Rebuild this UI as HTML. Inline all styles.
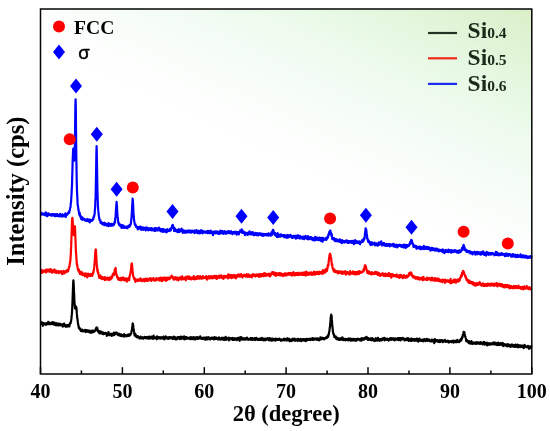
<!DOCTYPE html>
<html><head><meta charset="utf-8"><style>html,body{margin:0;padding:0;background:#fff;width:550px;height:431px;overflow:hidden}svg{display:block}</style></head>
<body><svg width="550" height="431" viewBox="0 0 550 431">
<defs>
<linearGradient id="bg" gradientUnits="userSpaceOnUse" x1="415.8" y1="255.9" x2="531.6" y2="9.3">
<stop offset="0.000" stop-color="rgb(255,255,255)"/>
<stop offset="0.037" stop-color="rgb(255,255,255)"/>
<stop offset="0.074" stop-color="rgb(254,255,254)"/>
<stop offset="0.111" stop-color="rgb(254,255,254)"/>
<stop offset="0.148" stop-color="rgb(253,254,253)"/>
<stop offset="0.185" stop-color="rgb(253,254,253)"/>
<stop offset="0.222" stop-color="rgb(252,254,252)"/>
<stop offset="0.259" stop-color="rgb(250,254,251)"/>
<stop offset="0.296" stop-color="rgb(249,253,250)"/>
<stop offset="0.333" stop-color="rgb(247,253,248)"/>
<stop offset="0.370" stop-color="rgb(246,253,247)"/>
<stop offset="0.407" stop-color="rgb(244,252,246)"/>
<stop offset="0.444" stop-color="rgb(243,252,244)"/>
<stop offset="0.481" stop-color="rgb(241,251,241)"/>
<stop offset="0.519" stop-color="rgb(239,251,239)"/>
<stop offset="0.556" stop-color="rgb(238,251,237)"/>
<stop offset="0.593" stop-color="rgb(236,250,235)"/>
<stop offset="0.630" stop-color="rgb(234,250,232)"/>
<stop offset="0.667" stop-color="rgb(232,249,229)"/>
<stop offset="0.704" stop-color="rgb(230,248,226)"/>
<stop offset="0.741" stop-color="rgb(228,248,223)"/>
<stop offset="0.778" stop-color="rgb(226,247,220)"/>
<stop offset="0.815" stop-color="rgb(225,246,216)"/>
<stop offset="0.852" stop-color="rgb(224,245,213)"/>
<stop offset="0.889" stop-color="rgb(222,243,210)"/>
<stop offset="0.926" stop-color="rgb(221,242,207)"/>
<stop offset="0.963" stop-color="rgb(219,240,203)"/>
<stop offset="1.000" stop-color="rgb(218,239,200)"/>
</linearGradient>
</defs>
<rect width="550" height="431" fill="#fff"/>
<rect x="40.5" y="9" width="491.3" height="365" fill="url(#bg)"/>
<g fill="none" stroke-linejoin="round" stroke-width="2.2">
<path stroke="#000" d="M41.0 325.0L41.2 322.2 41.4 324.0 41.6 323.4 41.8 323.5 42.0 323.6 42.2 322.5 42.4 323.6 42.6 323.2 42.8 325.8 43.0 323.9 43.2 323.5 43.4 323.5 43.6 323.3 43.8 323.0 44.0 323.4 44.2 324.0 44.4 323.5 44.6 324.2 44.8 323.5 45.0 323.7 45.2 324.6 45.4 324.0 45.6 323.3 45.8 323.5 46.0 323.9 46.2 324.8 46.4 323.4 46.6 323.4 46.8 324.2 47.0 323.0 47.2 323.4 47.4 324.1 47.6 323.9 47.8 323.6 48.0 323.9 48.2 321.8 48.4 324.1 48.6 322.9 48.8 322.5 49.0 323.7 49.2 323.9 49.4 323.2 49.6 322.8 49.8 323.5 50.0 323.4 50.2 324.3 50.4 323.9 50.6 323.5 50.8 324.1 51.0 323.3 51.2 322.9 51.4 323.8 51.6 323.9 51.8 323.4 52.0 323.1 52.2 323.7 52.4 322.1 52.6 324.1 52.8 324.0 53.0 322.7 53.2 323.8 53.4 323.2 53.6 324.3 53.8 322.6 54.0 323.3 54.2 324.3 54.4 324.7 54.6 322.6 54.8 323.7 55.0 324.2 55.2 323.7 55.4 325.1 55.6 323.4 55.8 324.4 56.0 323.5 56.2 325.1 56.4 324.2 56.6 324.0 56.8 323.2 57.0 325.4 57.2 324.8 57.4 324.9 57.6 325.1 57.8 324.7 58.0 324.1 58.2 324.0 58.4 324.0 58.6 325.4 58.8 323.7 59.0 324.2 59.2 324.4 59.4 324.8 59.6 325.0 59.8 323.9 60.0 323.7 60.2 324.8 60.4 325.5 60.6 325.3 60.8 325.0 61.0 324.7 61.2 325.1 61.4 324.8 61.6 325.4 61.8 324.4 62.0 325.0 62.2 324.9 62.4 325.3 62.6 325.2 62.8 326.6 63.0 326.0 63.2 326.0 63.4 323.8 63.6 324.9 63.8 324.7 64.0 325.4 64.2 323.7 64.4 325.9 64.6 325.9 64.8 324.5 65.0 324.8 65.2 324.9 65.4 325.5 65.6 325.9 65.8 326.8 66.0 325.4 66.2 326.1 66.4 325.7 66.6 326.7 66.8 326.1 67.0 326.5 67.2 325.0 67.4 325.5 67.6 325.1 67.8 326.5 68.0 326.0 68.2 325.3 68.4 325.2 68.6 325.7 68.8 324.9 69.0 324.6 69.2 325.3 69.4 326.4 69.6 324.5 69.8 324.0 70.0 323.3 70.2 322.9 70.4 323.6 70.6 323.2 70.8 322.0 71.0 321.4 71.2 320.2 71.4 318.9 71.6 316.2 71.8 314.7 72.0 312.3 72.2 308.3 72.4 304.1 72.6 298.7 72.8 293.0 73.0 287.8 73.2 282.3 73.4 280.4 73.6 282.4 73.8 286.4 74.0 292.3 74.2 295.1 74.4 301.3 74.6 303.7 74.8 306.3 75.0 308.0 75.2 308.7 75.4 308.5 75.6 307.5 75.8 307.9 76.0 306.5 76.2 306.9 76.4 308.6 76.6 309.5 76.8 313.4 77.0 315.0 77.2 317.9 77.4 318.6 77.6 320.2 77.8 322.0 78.0 323.7 78.2 324.0 78.4 325.6 78.6 326.2 78.8 327.9 79.0 327.1 79.2 328.6 79.4 327.9 79.6 328.1 79.8 328.5 80.0 328.4 80.2 329.5 80.4 330.2 80.6 329.9 80.8 330.3 81.0 331.1 81.2 330.3 81.4 330.4 81.6 330.2 81.8 329.5 82.0 331.0 82.2 329.5 82.4 331.1 82.6 330.7 82.8 331.5 83.0 330.8 83.2 330.4 83.4 331.2 83.6 330.6 83.8 330.9 84.0 331.1 84.2 331.0 84.4 331.0 84.6 330.6 84.8 331.0 85.0 329.8 85.2 331.1 85.4 330.5 85.6 331.9 85.8 332.0 86.0 330.0 86.2 331.4 86.4 331.2 86.6 330.6 86.8 331.6 87.0 331.0 87.2 330.2 87.4 331.1 87.6 331.2 87.8 331.4 88.0 330.6 88.2 331.7 88.4 331.8 88.6 330.6 88.8 330.9 89.0 331.3 89.2 331.0 89.4 332.4 89.6 331.5 89.8 330.7 90.0 330.8 90.2 331.3 90.4 332.7 90.6 331.2 90.8 331.4 91.0 331.6 91.2 331.2 91.4 332.7 91.6 330.9 91.8 331.7 92.0 331.3 92.2 331.6 92.4 330.5 92.6 332.3 92.8 331.2 93.0 331.3 93.2 330.7 93.4 330.8 93.6 331.6 93.8 331.8 94.0 331.6 94.2 331.8 94.4 331.4 94.6 330.9 94.8 331.2 95.0 330.8 95.2 330.1 95.4 330.3 95.6 330.2 95.8 329.1 96.0 328.2 96.2 328.4 96.4 328.7 96.6 327.3 96.8 327.6 97.0 328.0 97.2 329.4 97.4 328.1 97.6 330.0 97.8 331.0 98.0 330.2 98.2 332.0 98.4 331.6 98.6 331.2 98.8 331.9 99.0 331.0 99.2 331.7 99.4 333.3 99.6 331.7 99.8 333.5 100.0 332.4 100.2 333.1 100.4 332.6 100.6 331.3 100.8 332.4 101.0 332.9 101.2 332.1 101.4 332.1 101.6 333.2 101.8 332.6 102.0 332.0 102.2 332.7 102.4 333.7 102.6 332.9 102.8 333.8 103.0 334.2 103.2 333.3 103.4 332.6 103.6 332.6 103.8 333.4 104.0 334.0 104.2 333.7 104.4 333.9 104.6 333.3 104.8 333.8 105.0 333.4 105.2 333.5 105.4 332.9 105.6 332.8 105.8 333.5 106.0 333.1 106.2 333.3 106.4 334.3 106.6 333.9 106.8 335.8 107.0 334.6 107.2 333.6 107.4 334.5 107.6 334.3 107.8 333.6 108.0 334.8 108.2 333.6 108.4 332.2 108.6 334.6 108.8 333.8 109.0 335.1 109.2 333.8 109.4 333.5 109.6 335.2 109.8 333.6 110.0 334.4 110.2 335.2 110.4 334.3 110.6 334.2 110.8 334.4 111.0 334.8 111.2 333.8 111.4 334.7 111.6 334.7 111.8 335.8 112.0 334.1 112.2 333.8 112.4 334.8 112.6 334.1 112.8 334.5 113.0 334.4 113.2 335.1 113.4 333.9 113.6 334.3 113.8 332.7 114.0 333.7 114.2 335.2 114.4 333.8 114.6 333.7 114.8 333.3 115.0 334.3 115.2 333.9 115.4 332.8 115.6 333.7 115.8 333.3 116.0 333.3 116.2 332.3 116.4 333.7 116.6 333.0 116.8 332.9 117.0 332.9 117.2 333.3 117.4 334.2 117.6 333.8 117.8 334.8 118.0 334.6 118.2 335.2 118.4 335.0 118.6 334.6 118.8 333.5 119.0 334.9 119.2 335.3 119.4 334.9 119.6 335.2 119.8 334.6 120.0 334.7 120.2 334.4 120.4 335.8 120.6 335.1 120.8 334.7 121.0 334.3 121.2 335.0 121.4 336.0 121.6 335.4 121.8 334.7 122.0 336.1 122.2 336.1 122.4 335.8 122.6 335.7 122.8 336.0 123.0 335.6 123.2 335.8 123.4 334.8 123.6 336.2 123.8 335.5 124.0 336.6 124.2 334.1 124.4 335.8 124.6 336.0 124.8 335.2 125.0 335.7 125.2 335.9 125.4 335.9 125.6 335.2 125.8 335.4 126.0 336.2 126.2 336.3 126.4 335.6 126.6 335.6 126.8 335.7 127.0 336.2 127.2 334.9 127.4 334.8 127.6 335.7 127.8 334.9 128.0 335.2 128.2 335.6 128.4 335.8 128.6 334.8 128.8 336.0 129.0 334.3 129.2 335.7 129.4 334.3 129.6 334.4 129.8 335.5 130.0 334.7 130.2 334.3 130.4 334.3 130.6 334.6 130.8 333.9 131.0 333.5 131.2 333.6 131.4 331.7 131.6 330.9 131.8 329.7 132.0 329.3 132.2 327.6 132.4 326.1 132.6 324.0 132.8 323.5 133.0 324.7 133.2 325.2 133.4 327.7 133.6 329.3 133.8 329.9 134.0 331.5 134.2 332.5 134.4 334.4 134.6 335.6 134.8 334.4 135.0 334.9 135.2 333.8 135.4 335.6 135.6 335.7 135.8 335.3 136.0 336.6 136.2 335.3 136.4 336.2 136.6 336.6 136.8 335.8 137.0 337.2 137.2 337.4 137.4 336.0 137.6 336.0 137.8 337.3 138.0 337.0 138.2 336.3 138.4 337.0 138.6 337.1 138.8 337.2 139.0 337.8 139.2 337.6 139.4 338.4 139.6 338.2 139.8 337.8 140.0 338.1 140.2 338.2 140.4 337.9 140.6 336.7 140.8 338.0 141.0 337.5 141.2 338.5 141.4 337.5 141.6 337.8 141.8 337.7 142.0 338.5 142.2 337.6 142.4 337.3 142.6 337.7 142.8 337.3 143.0 337.6 143.2 337.5 143.4 337.7 143.6 338.7 143.8 337.3 144.0 337.6 144.2 337.4 144.4 338.0 144.6 336.8 144.8 337.2 145.0 337.6 145.2 337.9 145.4 337.6 145.6 337.3 145.8 337.1 146.0 337.9 146.2 338.5 146.4 337.8 146.6 337.7 146.8 337.9 147.0 337.0 147.2 337.4 147.4 337.5 147.6 337.8 147.8 337.6 148.0 336.9 148.2 338.3 148.4 338.7 148.6 337.5 148.8 337.9 149.0 337.8 149.2 338.1 149.4 336.7 149.6 338.7 149.8 337.4 150.0 338.5 150.2 337.7 150.4 337.4 150.6 337.6 150.8 338.2 151.0 337.1 151.2 337.5 151.4 337.4 151.6 336.6 151.8 338.5 152.0 338.1 152.2 337.7 152.4 338.4 152.6 337.1 152.8 337.7 153.0 338.8 153.2 338.3 153.4 336.3 153.6 335.6 153.8 337.1 154.0 338.4 154.2 337.4 154.4 337.6 154.6 338.1 154.8 337.2 155.0 337.9 155.2 338.2 155.4 338.0 155.6 338.0 155.8 337.4 156.0 338.1 156.2 337.5 156.4 338.6 156.6 339.3 156.8 337.3 157.0 336.4 157.2 337.5 157.4 338.0 157.6 338.4 157.8 338.4 158.0 337.3 158.2 337.3 158.4 338.5 158.6 337.1 158.8 338.4 159.0 337.6 159.2 338.2 159.4 338.2 159.6 338.3 159.8 338.3 160.0 337.2 160.2 338.0 160.4 337.8 160.6 338.0 160.8 338.5 161.0 337.6 161.2 337.3 161.4 337.3 161.6 337.6 161.8 338.3 162.0 337.3 162.2 338.5 162.4 338.0 162.6 337.7 162.8 337.0 163.0 338.0 163.2 338.2 163.4 336.7 163.6 338.5 163.8 338.8 164.0 338.0 164.2 338.1 164.4 339.3 164.6 338.6 164.8 337.3 165.0 337.8 165.2 337.7 165.4 337.7 165.6 336.4 165.8 338.3 166.0 337.4 166.2 337.9 166.4 337.8 166.6 338.4 166.8 337.7 167.0 337.3 167.2 338.2 167.4 338.7 167.6 337.6 167.8 338.7 168.0 338.0 168.2 337.5 168.4 338.8 168.6 337.3 168.8 338.5 169.0 337.5 169.2 338.1 169.4 337.1 169.6 337.3 169.8 338.5 170.0 338.0 170.2 337.9 170.4 337.6 170.6 338.1 170.8 337.0 171.0 337.2 171.2 337.8 171.4 337.4 171.6 337.4 171.8 337.8 172.0 337.8 172.2 337.7 172.4 338.9 172.6 338.5 172.8 338.7 173.0 337.9 173.2 337.6 173.4 337.0 173.6 337.7 173.8 336.6 174.0 337.5 174.2 338.4 174.4 338.9 174.6 338.5 174.8 337.4 175.0 338.2 175.2 337.4 175.4 338.4 175.6 337.9 175.8 338.5 176.0 339.5 176.2 338.5 176.4 339.4 176.6 338.0 176.8 337.7 177.0 338.8 177.2 339.0 177.4 337.6 177.6 338.0 177.8 337.1 178.0 337.8 178.2 338.5 178.4 337.9 178.6 337.6 178.8 337.1 179.0 338.2 179.2 338.5 179.4 338.3 179.6 338.1 179.8 337.2 180.0 339.1 180.2 338.0 180.4 337.9 180.6 338.5 180.8 336.7 181.0 338.0 181.2 337.9 181.4 338.2 181.6 338.8 181.8 338.3 182.0 336.9 182.2 337.8 182.4 338.2 182.6 338.1 182.8 337.2 183.0 337.0 183.2 338.4 183.4 338.3 183.6 338.0 183.8 337.0 184.0 339.1 184.2 336.3 184.4 337.8 184.6 339.4 184.8 338.0 185.0 338.2 185.2 337.3 185.4 338.9 185.6 337.3 185.8 338.2 186.0 338.2 186.2 337.4 186.4 338.6 186.6 337.2 186.8 337.7 187.0 338.1 187.2 337.8 187.4 338.4 187.6 338.7 187.8 337.9 188.0 337.8 188.2 337.8 188.4 337.9 188.6 338.6 188.8 338.0 189.0 338.4 189.2 338.1 189.4 337.6 189.6 338.7 189.8 337.5 190.0 338.1 190.2 339.1 190.4 337.5 190.6 338.1 190.8 337.2 191.0 337.8 191.2 337.2 191.4 337.9 191.6 337.8 191.8 338.2 192.0 339.1 192.2 338.3 192.4 338.6 192.6 338.1 192.8 338.0 193.0 337.7 193.2 337.1 193.4 338.2 193.6 339.2 193.8 338.5 194.0 337.9 194.2 339.2 194.4 337.9 194.6 337.8 194.8 337.5 195.0 337.6 195.2 338.1 195.4 339.5 195.6 338.1 195.8 337.6 196.0 337.8 196.2 338.1 196.4 337.2 196.6 338.3 196.8 338.7 197.0 338.4 197.2 338.6 197.4 337.4 197.6 337.2 197.8 339.0 198.0 338.9 198.2 337.3 198.4 338.4 198.6 338.3 198.8 338.6 199.0 338.4 199.2 338.0 199.4 338.4 199.6 338.4 199.8 338.2 200.0 337.1 200.2 336.4 200.4 337.8 200.6 337.3 200.8 338.4 201.0 338.7 201.2 338.5 201.4 338.1 201.6 338.3 201.8 339.0 202.0 337.9 202.2 338.9 202.4 338.8 202.6 338.5 202.8 339.2 203.0 337.9 203.2 338.9 203.4 337.8 203.6 337.9 203.8 337.7 204.0 338.6 204.2 337.8 204.4 338.4 204.6 337.6 204.8 339.0 205.0 339.5 205.2 338.5 205.4 339.4 205.6 338.7 205.8 339.7 206.0 338.4 206.2 337.4 206.4 339.3 206.6 338.3 206.8 337.7 207.0 338.0 207.2 337.4 207.4 338.3 207.6 337.7 207.8 339.3 208.0 338.8 208.2 337.4 208.4 337.5 208.6 338.1 208.8 337.2 209.0 338.3 209.2 338.4 209.4 337.9 209.6 338.1 209.8 338.7 210.0 339.3 210.2 339.4 210.4 338.5 210.6 339.0 210.8 338.0 211.0 338.7 211.2 337.8 211.4 338.9 211.6 337.7 211.8 337.9 212.0 338.4 212.2 338.8 212.4 337.6 212.6 338.1 212.8 338.5 213.0 338.6 213.2 338.0 213.4 338.5 213.6 338.3 213.8 339.4 214.0 338.8 214.2 337.7 214.4 337.1 214.6 338.6 214.8 339.2 215.0 338.6 215.2 339.0 215.4 338.2 215.6 337.7 215.8 339.0 216.0 338.6 216.2 338.9 216.4 337.7 216.6 338.6 216.8 338.1 217.0 339.0 217.2 338.2 217.4 338.2 217.6 338.2 217.8 339.3 218.0 338.6 218.2 338.1 218.4 337.9 218.6 337.9 218.8 339.5 219.0 337.4 219.2 338.0 219.4 339.0 219.6 339.3 219.8 338.5 220.0 339.1 220.2 339.0 220.4 339.2 220.6 338.6 220.8 339.6 221.0 338.7 221.2 339.5 221.4 337.9 221.6 339.2 221.8 337.8 222.0 337.7 222.2 338.9 222.4 338.1 222.6 338.9 222.8 338.0 223.0 339.6 223.2 338.6 223.4 337.9 223.6 338.8 223.8 339.2 224.0 338.2 224.2 339.0 224.4 339.9 224.6 339.2 224.8 338.7 225.0 338.3 225.2 339.0 225.4 337.7 225.6 336.8 225.8 338.3 226.0 338.0 226.2 339.8 226.4 338.8 226.6 338.1 226.8 338.0 227.0 339.0 227.2 338.2 227.4 338.4 227.6 338.7 227.8 338.8 228.0 338.8 228.2 338.8 228.4 339.5 228.6 339.8 228.8 337.7 229.0 340.3 229.2 338.8 229.4 339.5 229.6 338.3 229.8 339.0 230.0 338.9 230.2 338.8 230.4 339.3 230.6 339.2 230.8 338.1 231.0 338.7 231.2 339.2 231.4 339.2 231.6 338.6 231.8 338.6 232.0 338.7 232.2 338.1 232.4 338.0 232.6 339.8 232.8 338.6 233.0 338.9 233.2 338.3 233.4 339.6 233.6 339.9 233.8 338.7 234.0 339.1 234.2 338.4 234.4 339.9 234.6 339.4 234.8 338.3 235.0 339.6 235.2 339.1 235.4 339.1 235.6 339.1 235.8 338.4 236.0 338.5 236.2 339.2 236.4 338.8 236.6 338.3 236.8 340.1 237.0 338.7 237.2 338.5 237.4 338.4 237.6 339.3 237.8 339.5 238.0 339.0 238.2 339.4 238.4 337.9 238.6 338.6 238.8 338.6 239.0 338.9 239.2 339.2 239.4 337.6 239.6 340.8 239.8 338.4 240.0 339.1 240.2 339.4 240.4 339.4 240.6 339.1 240.8 337.1 241.0 338.2 241.2 339.4 241.4 338.3 241.6 338.3 241.8 337.5 242.0 339.7 242.2 339.2 242.4 338.4 242.6 338.8 242.8 338.9 243.0 338.2 243.2 338.8 243.4 339.1 243.6 339.3 243.8 339.7 244.0 338.9 244.2 338.6 244.4 339.2 244.6 338.5 244.8 338.2 245.0 339.7 245.2 338.7 245.4 339.0 245.6 339.4 245.8 338.3 246.0 339.4 246.2 339.2 246.4 338.9 246.6 339.2 246.8 338.5 247.0 337.6 247.2 338.8 247.4 338.4 247.6 339.5 247.8 339.1 248.0 338.7 248.2 339.0 248.4 339.8 248.6 339.7 248.8 339.2 249.0 339.3 249.2 338.8 249.4 338.9 249.6 339.4 249.8 338.9 250.0 339.2 250.2 338.3 250.4 338.0 250.6 338.0 250.8 338.8 251.0 339.9 251.2 339.8 251.4 338.4 251.6 338.1 251.8 339.5 252.0 339.3 252.2 338.2 252.4 339.7 252.6 339.2 252.8 339.9 253.0 339.3 253.2 339.6 253.4 339.3 253.6 338.5 253.8 338.9 254.0 338.7 254.2 339.6 254.4 338.5 254.6 338.1 254.8 339.5 255.0 339.8 255.2 340.0 255.4 339.8 255.6 338.2 255.8 338.7 256.0 338.8 256.2 339.1 256.4 337.8 256.6 339.1 256.8 339.3 257.0 338.5 257.2 339.2 257.4 339.9 257.6 339.2 257.8 339.8 258.0 339.8 258.2 339.4 258.4 339.4 258.6 338.9 258.8 339.9 259.0 338.9 259.2 338.7 259.4 339.6 259.6 338.7 259.8 339.5 260.0 339.8 260.2 339.2 260.4 339.3 260.6 339.8 260.8 339.7 261.0 338.3 261.2 338.4 261.4 340.0 261.6 339.5 261.8 337.9 262.0 338.4 262.2 339.2 262.4 338.6 262.6 339.5 262.8 339.3 263.0 339.6 263.2 338.5 263.4 339.6 263.6 340.5 263.8 338.8 264.0 340.1 264.2 339.9 264.4 339.7 264.6 339.2 264.8 338.6 265.0 338.7 265.2 339.8 265.4 339.9 265.6 340.1 265.8 339.9 266.0 339.9 266.2 339.0 266.4 338.6 266.6 339.4 266.8 339.6 267.0 339.4 267.2 338.4 267.4 339.0 267.6 338.4 267.8 339.4 268.0 338.7 268.2 339.2 268.4 339.6 268.6 339.4 268.8 340.2 269.0 338.7 269.2 338.0 269.4 340.0 269.6 340.2 269.8 340.3 270.0 339.6 270.2 339.7 270.4 339.5 270.6 338.6 270.8 339.0 271.0 339.7 271.2 339.1 271.4 340.6 271.6 338.5 271.8 339.2 272.0 340.1 272.2 339.1 272.4 338.7 272.6 338.6 272.8 339.0 273.0 340.4 273.2 339.7 273.4 339.8 273.6 339.1 273.8 340.0 274.0 339.5 274.2 338.9 274.4 339.2 274.6 339.6 274.8 340.2 275.0 339.4 275.2 339.8 275.4 340.7 275.6 339.0 275.8 338.7 276.0 340.1 276.2 339.8 276.4 339.4 276.6 339.7 276.8 339.3 277.0 339.8 277.2 339.3 277.4 340.0 277.6 338.8 277.8 339.0 278.0 339.6 278.2 339.2 278.4 340.0 278.6 339.5 278.8 339.2 279.0 339.7 279.2 339.2 279.4 338.6 279.6 338.9 279.8 339.1 280.0 339.3 280.2 339.6 280.4 340.1 280.6 339.9 280.8 340.7 281.0 340.4 281.2 339.5 281.4 340.6 281.6 340.3 281.8 339.3 282.0 339.8 282.2 340.3 282.4 339.8 282.6 340.3 282.8 339.9 283.0 340.1 283.2 339.4 283.4 339.9 283.6 339.4 283.8 340.1 284.0 338.6 284.2 339.9 284.4 340.4 284.6 340.0 284.8 339.7 285.0 340.0 285.2 339.1 285.4 339.2 285.6 339.5 285.8 339.6 286.0 340.3 286.2 339.1 286.4 340.3 286.6 338.7 286.8 339.2 287.0 339.7 287.2 340.4 287.4 339.3 287.6 338.4 287.8 340.0 288.0 339.7 288.2 339.1 288.4 339.1 288.6 339.3 288.8 339.8 289.0 340.2 289.2 338.8 289.4 341.2 289.6 339.7 289.8 339.5 290.0 340.2 290.2 339.8 290.4 341.2 290.6 340.4 290.8 339.5 291.0 339.5 291.2 339.5 291.4 339.6 291.6 340.2 291.8 339.4 292.0 340.8 292.2 339.7 292.4 339.7 292.6 340.4 292.8 338.6 293.0 339.2 293.2 340.2 293.4 339.8 293.6 339.8 293.8 340.1 294.0 339.5 294.2 339.7 294.4 339.0 294.6 338.7 294.8 340.6 295.0 339.3 295.2 339.4 295.4 340.7 295.6 340.5 295.8 339.5 296.0 339.5 296.2 339.8 296.4 339.3 296.6 340.2 296.8 340.0 297.0 340.0 297.2 340.3 297.4 340.3 297.6 341.0 297.8 340.8 298.0 338.8 298.2 340.5 298.4 339.2 298.6 339.0 298.8 340.3 299.0 339.5 299.2 339.7 299.4 340.6 299.6 339.5 299.8 339.4 300.0 340.1 300.2 340.7 300.4 340.2 300.6 338.9 300.8 339.5 301.0 339.8 301.2 341.1 301.4 340.4 301.6 340.4 301.8 340.6 302.0 339.6 302.2 340.1 302.4 340.1 302.6 339.2 302.8 339.8 303.0 340.1 303.2 339.1 303.4 340.3 303.6 340.2 303.8 340.4 304.0 339.3 304.2 339.8 304.4 340.6 304.6 340.2 304.8 339.2 305.0 339.8 305.2 340.6 305.4 339.6 305.6 339.9 305.8 341.2 306.0 339.6 306.2 339.6 306.4 339.0 306.6 339.2 306.8 340.5 307.0 339.5 307.2 338.8 307.4 339.0 307.6 339.6 307.8 340.0 308.0 339.1 308.2 340.0 308.4 339.2 308.6 339.7 308.8 339.8 309.0 339.9 309.2 339.2 309.4 339.4 309.6 339.8 309.8 338.6 310.0 339.5 310.2 339.7 310.4 340.1 310.6 339.4 310.8 339.3 311.0 339.5 311.2 338.9 311.4 339.2 311.6 339.6 311.8 339.5 312.0 338.7 312.2 339.1 312.4 338.0 312.6 339.8 312.8 339.0 313.0 339.4 313.2 338.6 313.4 339.2 313.6 339.5 313.8 339.8 314.0 338.4 314.2 339.7 314.4 339.1 314.6 338.7 314.8 339.5 315.0 339.0 315.2 339.0 315.4 338.7 315.6 339.2 315.8 339.1 316.0 339.0 316.2 338.5 316.4 338.7 316.6 339.3 316.8 339.8 317.0 339.0 317.2 339.9 317.4 339.0 317.6 338.3 317.8 339.4 318.0 338.4 318.2 339.2 318.4 339.6 318.6 338.7 318.8 338.8 319.0 340.4 319.2 339.0 319.4 339.0 319.6 339.3 319.8 338.7 320.0 338.7 320.2 339.0 320.4 337.3 320.6 339.6 320.8 338.1 321.0 338.1 321.2 339.1 321.4 338.7 321.6 337.9 321.8 338.8 322.0 338.0 322.2 338.2 322.4 337.7 322.6 338.1 322.8 338.9 323.0 338.7 323.2 338.8 323.4 339.1 323.6 338.5 323.8 338.1 324.0 338.3 324.2 339.4 324.4 338.4 324.6 338.5 324.8 338.2 325.0 338.4 325.2 338.5 325.4 338.1 325.6 338.0 325.8 337.5 326.0 337.4 326.2 338.1 326.4 338.2 326.6 338.2 326.8 337.5 327.0 336.8 327.2 337.6 327.4 337.4 327.6 335.8 327.8 337.0 328.0 336.6 328.2 336.9 328.4 334.7 328.6 334.1 328.8 334.8 329.0 332.5 329.2 332.2 329.4 330.9 329.6 329.6 329.8 327.5 330.0 326.6 330.2 325.0 330.4 322.1 330.6 319.5 330.8 316.5 331.0 315.8 331.2 314.6 331.4 315.6 331.6 315.8 331.8 319.4 332.0 321.2 332.2 324.7 332.4 326.8 332.6 328.0 332.8 330.4 333.0 332.4 333.2 333.0 333.4 334.0 333.6 333.8 333.8 334.6 334.0 334.8 334.2 336.0 334.4 337.0 334.6 336.8 334.8 336.8 335.0 336.4 335.2 337.5 335.4 337.3 335.6 336.4 335.8 336.6 336.0 337.6 336.2 337.4 336.4 339.0 336.6 338.1 336.8 337.5 337.0 337.9 337.2 339.3 337.4 337.8 337.6 338.9 337.8 338.7 338.0 339.4 338.2 338.9 338.4 338.3 338.6 338.9 338.8 338.7 339.0 339.3 339.2 338.7 339.4 340.0 339.6 338.7 339.8 339.1 340.0 338.4 340.2 338.9 340.4 338.9 340.6 339.0 340.8 339.5 341.0 338.6 341.2 338.4 341.4 339.6 341.6 338.8 341.8 338.6 342.0 339.7 342.2 339.5 342.4 337.4 342.6 338.8 342.8 339.6 343.0 339.6 343.2 338.8 343.4 340.1 343.6 338.6 343.8 339.0 344.0 339.2 344.2 339.2 344.4 339.7 344.6 339.8 344.8 339.2 345.0 340.1 345.2 338.8 345.4 339.1 345.6 340.3 345.8 339.3 346.0 339.9 346.2 339.0 346.4 339.1 346.6 339.2 346.8 339.4 347.0 339.1 347.2 339.3 347.4 339.8 347.6 340.1 347.8 339.4 348.0 339.8 348.2 339.9 348.4 338.7 348.6 338.4 348.8 340.4 349.0 340.2 349.2 339.5 349.4 339.6 349.6 338.9 349.8 338.6 350.0 339.6 350.2 338.5 350.4 340.0 350.6 339.1 350.8 339.7 351.0 340.7 351.2 340.7 351.4 339.3 351.6 340.2 351.8 338.9 352.0 339.2 352.2 339.8 352.4 340.4 352.6 339.2 352.8 339.9 353.0 339.6 353.2 338.8 353.4 339.5 353.6 340.5 353.8 339.5 354.0 339.9 354.2 340.1 354.4 339.1 354.6 340.4 354.8 340.5 355.0 340.6 355.2 340.4 355.4 339.3 355.6 339.3 355.8 339.2 356.0 339.1 356.2 339.2 356.4 340.3 356.6 340.6 356.8 339.3 357.0 340.2 357.2 338.9 357.4 339.5 357.6 339.1 357.8 338.7 358.0 339.7 358.2 339.7 358.4 339.4 358.6 339.4 358.8 339.1 359.0 339.6 359.2 339.3 359.4 339.9 359.6 339.0 359.8 339.8 360.0 340.0 360.2 340.5 360.4 340.3 360.6 339.8 360.8 339.2 361.0 338.5 361.2 339.6 361.4 340.5 361.6 340.6 361.8 338.0 362.0 339.1 362.2 339.3 362.4 338.9 362.6 339.6 362.8 339.5 363.0 339.1 363.2 339.3 363.4 338.3 363.6 338.7 363.8 338.6 364.0 339.7 364.2 338.0 364.4 338.8 364.6 339.2 364.8 338.5 365.0 338.9 365.2 337.7 365.4 338.2 365.6 338.2 365.8 338.7 366.0 337.5 366.2 337.7 366.4 336.8 366.6 336.9 366.8 338.0 367.0 337.6 367.2 338.4 367.4 338.3 367.6 339.4 367.8 339.8 368.0 338.0 368.2 339.8 368.4 339.1 368.6 339.2 368.8 338.9 369.0 339.5 369.2 338.5 369.4 338.8 369.6 338.8 369.8 339.5 370.0 339.9 370.2 339.8 370.4 339.6 370.6 339.0 370.8 338.3 371.0 339.7 371.2 339.5 371.4 339.7 371.6 340.3 371.8 339.3 372.0 339.3 372.2 338.0 372.4 339.8 372.6 339.5 372.8 339.0 373.0 339.7 373.2 338.9 373.4 339.2 373.6 340.7 373.8 340.0 374.0 340.1 374.2 340.0 374.4 339.9 374.6 339.7 374.8 341.0 375.0 339.5 375.2 340.1 375.4 339.5 375.6 339.4 375.8 338.1 376.0 338.4 376.2 340.5 376.4 340.5 376.6 339.3 376.8 339.5 377.0 339.9 377.2 338.9 377.4 340.6 377.6 338.8 377.8 339.0 378.0 337.8 378.2 340.4 378.4 339.5 378.6 340.5 378.8 338.8 379.0 339.6 379.2 339.5 379.4 339.5 379.6 340.7 379.8 340.8 380.0 340.3 380.2 339.2 380.4 340.0 380.6 340.2 380.8 339.7 381.0 339.7 381.2 339.7 381.4 338.8 381.6 339.5 381.8 340.4 382.0 338.8 382.2 339.4 382.4 339.9 382.6 338.5 382.8 339.3 383.0 338.3 383.2 339.0 383.4 338.5 383.6 338.8 383.8 339.0 384.0 339.2 384.2 339.2 384.4 337.8 384.6 340.3 384.8 339.1 385.0 338.6 385.2 338.9 385.4 339.5 385.6 338.7 385.8 339.0 386.0 339.0 386.2 339.6 386.4 338.8 386.6 339.6 386.8 339.5 387.0 339.2 387.2 340.0 387.4 339.3 387.6 338.5 387.8 339.4 388.0 339.3 388.2 339.2 388.4 339.4 388.6 340.7 388.8 339.4 389.0 339.5 389.2 339.1 389.4 340.0 389.6 339.2 389.8 338.7 390.0 338.4 390.2 339.5 390.4 339.7 390.6 338.2 390.8 338.7 391.0 339.6 391.2 339.8 391.4 338.4 391.6 338.9 391.8 339.7 392.0 338.8 392.2 338.9 392.4 338.8 392.6 338.3 392.8 339.2 393.0 339.3 393.2 338.3 393.4 339.2 393.6 339.8 393.8 339.3 394.0 339.7 394.2 338.8 394.4 340.0 394.6 338.6 394.8 340.3 395.0 338.8 395.2 338.7 395.4 338.5 395.6 338.8 395.8 338.8 396.0 338.7 396.2 338.9 396.4 339.5 396.6 339.6 396.8 338.9 397.0 339.8 397.2 338.4 397.4 338.4 397.6 338.3 397.8 339.4 398.0 338.1 398.2 338.2 398.4 339.8 398.6 340.1 398.8 339.9 399.0 338.1 399.2 339.0 399.4 339.5 399.6 339.1 399.8 338.0 400.0 338.8 400.2 338.0 400.4 338.3 400.6 340.4 400.8 339.5 401.0 338.1 401.2 338.1 401.4 339.3 401.6 338.7 401.8 339.4 402.0 338.7 402.2 339.0 402.4 339.3 402.6 338.5 402.8 337.9 403.0 338.4 403.2 338.7 403.4 339.0 403.6 339.1 403.8 339.1 404.0 339.5 404.2 338.7 404.4 340.1 404.6 340.5 404.8 339.5 405.0 339.4 405.2 340.0 405.4 339.7 405.6 339.4 405.8 339.2 406.0 338.8 406.2 338.6 406.4 339.7 406.6 340.1 406.8 338.7 407.0 339.3 407.2 339.5 407.4 339.1 407.6 338.9 407.8 339.2 408.0 338.2 408.2 339.4 408.4 339.3 408.6 340.8 408.8 340.1 409.0 339.3 409.2 339.5 409.4 340.6 409.6 340.6 409.8 339.7 410.0 339.5 410.2 338.8 410.4 339.5 410.6 339.6 410.8 339.3 411.0 340.8 411.2 338.6 411.4 339.7 411.6 340.0 411.8 340.0 412.0 340.8 412.2 338.9 412.4 339.3 412.6 339.8 412.8 339.8 413.0 339.5 413.2 339.2 413.4 340.4 413.6 339.1 413.8 339.4 414.0 340.6 414.2 340.8 414.4 340.3 414.6 339.2 414.8 339.2 415.0 339.2 415.2 339.1 415.4 339.5 415.6 340.6 415.8 339.9 416.0 339.3 416.2 339.3 416.4 339.1 416.6 340.6 416.8 338.6 417.0 340.0 417.2 339.0 417.4 339.2 417.6 339.0 417.8 340.5 418.0 339.8 418.2 341.6 418.4 339.3 418.6 339.2 418.8 340.3 419.0 340.3 419.2 339.8 419.4 338.7 419.6 340.9 419.8 340.3 420.0 340.2 420.2 339.6 420.4 340.4 420.6 339.7 420.8 340.1 421.0 339.9 421.2 340.8 421.4 339.8 421.6 339.9 421.8 340.8 422.0 340.2 422.2 340.1 422.4 340.0 422.6 340.7 422.8 339.7 423.0 340.4 423.2 341.4 423.4 340.4 423.6 339.7 423.8 339.4 424.0 340.3 424.2 339.4 424.4 339.2 424.6 339.7 424.8 339.5 425.0 340.8 425.2 339.3 425.4 341.2 425.6 339.8 425.8 340.3 426.0 340.7 426.2 340.4 426.4 340.7 426.6 339.7 426.8 338.9 427.0 340.2 427.2 339.3 427.4 340.0 427.6 340.9 427.8 340.2 428.0 340.0 428.2 339.7 428.4 340.2 428.6 340.3 428.8 339.4 429.0 340.6 429.2 339.8 429.4 340.6 429.6 340.2 429.8 341.1 430.0 341.0 430.2 340.5 430.4 340.4 430.6 340.8 430.8 341.4 431.0 341.2 431.2 340.6 431.4 340.7 431.6 341.5 431.8 339.5 432.0 340.9 432.2 340.0 432.4 341.4 432.6 340.3 432.8 340.6 433.0 340.0 433.2 340.7 433.4 341.1 433.6 341.7 433.8 339.9 434.0 340.4 434.2 343.1 434.4 341.3 434.6 340.7 434.8 341.1 435.0 339.1 435.2 341.8 435.4 340.9 435.6 339.9 435.8 341.5 436.0 340.4 436.2 340.2 436.4 341.1 436.6 341.1 436.8 340.6 437.0 340.8 437.2 340.0 437.4 340.0 437.6 341.4 437.8 341.7 438.0 341.2 438.2 341.1 438.4 340.7 438.6 340.9 438.8 340.4 439.0 342.0 439.2 340.6 439.4 341.2 439.6 341.0 439.8 340.1 440.0 342.2 440.2 340.8 440.4 340.5 440.6 341.1 440.8 340.5 441.0 341.0 441.2 340.4 441.4 341.4 441.6 341.1 441.8 340.2 442.0 341.7 442.2 341.2 442.4 340.4 442.6 341.3 442.8 341.3 443.0 342.2 443.2 340.5 443.4 341.6 443.6 341.0 443.8 341.5 444.0 340.9 444.2 341.1 444.4 341.4 444.6 340.4 444.8 339.8 445.0 341.1 445.2 340.8 445.4 341.2 445.6 341.5 445.8 341.0 446.0 341.9 446.2 341.1 446.4 341.2 446.6 341.7 446.8 341.5 447.0 341.1 447.2 341.3 447.4 340.7 447.6 340.8 447.8 341.2 448.0 341.7 448.2 340.9 448.4 341.7 448.6 342.4 448.8 342.5 449.0 341.2 449.2 341.9 449.4 341.6 449.6 341.7 449.8 341.7 450.0 341.6 450.2 341.8 450.4 341.4 450.6 341.1 450.8 341.4 451.0 341.6 451.2 342.1 451.4 341.5 451.6 341.8 451.8 342.2 452.0 340.8 452.2 341.2 452.4 341.7 452.6 341.4 452.8 340.8 453.0 342.0 453.2 341.4 453.4 340.8 453.6 342.6 453.8 340.6 454.0 341.4 454.2 341.0 454.4 341.5 454.6 341.8 454.8 341.0 455.0 341.4 455.2 341.4 455.4 340.8 455.6 342.2 455.8 341.6 456.0 341.3 456.2 341.1 456.4 341.3 456.6 341.6 456.8 341.2 457.0 342.2 457.2 339.9 457.4 340.1 457.6 341.3 457.8 340.3 458.0 341.3 458.2 340.9 458.4 341.7 458.6 341.6 458.8 342.1 459.0 341.8 459.2 342.0 459.4 341.5 459.6 341.7 459.8 341.3 460.0 340.5 460.2 340.0 460.4 339.9 460.6 340.8 460.8 338.9 461.0 340.3 461.2 339.5 461.4 340.2 461.6 339.5 461.8 338.6 462.0 338.6 462.2 336.7 462.4 337.7 462.6 337.1 462.8 334.9 463.0 335.7 463.2 334.3 463.4 333.6 463.6 331.9 463.8 332.7 464.0 332.5 464.2 332.3 464.4 332.2 464.6 334.1 464.8 335.2 465.0 335.6 465.2 336.9 465.4 336.7 465.6 337.8 465.8 338.6 466.0 339.0 466.2 341.1 466.4 340.0 466.6 339.8 466.8 340.9 467.0 340.0 467.2 341.1 467.4 341.6 467.6 341.0 467.8 341.2 468.0 341.0 468.2 341.7 468.4 341.3 468.6 342.9 468.8 342.3 469.0 341.9 469.2 341.2 469.4 343.4 469.6 343.0 469.8 342.6 470.0 342.5 470.2 342.5 470.4 342.1 470.6 343.6 470.8 342.7 471.0 341.7 471.2 342.2 471.4 341.0 471.6 343.1 471.8 343.2 472.0 343.8 472.2 344.0 472.4 342.3 472.6 343.0 472.8 343.4 473.0 343.3 473.2 342.5 473.4 343.3 473.6 343.2 473.8 343.7 474.0 342.9 474.2 342.8 474.4 342.6 474.6 342.7 474.8 342.5 475.0 342.8 475.2 343.3 475.4 343.3 475.6 343.8 475.8 343.7 476.0 343.4 476.2 342.3 476.4 343.4 476.6 343.8 476.8 342.3 477.0 342.4 477.2 342.5 477.4 342.5 477.6 342.9 477.8 342.5 478.0 343.4 478.2 342.4 478.4 343.1 478.6 342.9 478.8 342.6 479.0 343.8 479.2 343.2 479.4 343.5 479.6 343.0 479.8 343.7 480.0 343.6 480.2 343.2 480.4 342.2 480.6 343.8 480.8 343.7 481.0 343.4 481.2 343.4 481.4 343.4 481.6 343.4 481.8 342.7 482.0 343.3 482.2 343.5 482.4 343.0 482.6 342.8 482.8 344.5 483.0 343.8 483.2 343.2 483.4 343.1 483.6 341.8 483.8 342.5 484.0 343.3 484.2 344.2 484.4 342.2 484.6 343.0 484.8 344.6 485.0 343.9 485.2 343.7 485.4 344.2 485.6 343.4 485.8 343.4 486.0 344.0 486.2 344.1 486.4 342.9 486.6 344.5 486.8 342.5 487.0 343.1 487.2 345.5 487.4 343.3 487.6 344.0 487.8 343.0 488.0 343.4 488.2 343.2 488.4 343.4 488.6 344.0 488.8 344.7 489.0 344.2 489.2 344.6 489.4 343.4 489.6 344.6 489.8 344.0 490.0 344.5 490.2 343.4 490.4 343.6 490.6 344.6 490.8 344.1 491.0 343.8 491.2 343.3 491.4 343.7 491.6 344.1 491.8 344.2 492.0 343.4 492.2 343.6 492.4 344.1 492.6 343.1 492.8 344.4 493.0 343.8 493.2 343.7 493.4 342.3 493.6 342.8 493.8 343.2 494.0 343.5 494.2 343.2 494.4 344.1 494.6 343.9 494.8 343.7 495.0 342.6 495.2 344.7 495.4 343.7 495.6 344.3 495.8 343.5 496.0 343.9 496.2 344.4 496.4 344.1 496.6 344.5 496.8 343.8 497.0 345.2 497.2 342.8 497.4 343.6 497.6 344.6 497.8 343.8 498.0 343.7 498.2 342.9 498.4 344.8 498.6 342.8 498.8 344.3 499.0 344.2 499.2 344.6 499.4 345.0 499.6 343.6 499.8 343.6 500.0 343.9 500.2 343.0 500.4 344.6 500.6 343.9 500.8 344.3 501.0 343.5 501.2 344.2 501.4 343.9 501.6 344.2 501.8 343.6 502.0 345.0 502.2 344.0 502.4 342.8 502.6 344.8 502.8 344.3 503.0 343.9 503.2 346.1 503.4 344.5 503.6 343.7 503.8 344.2 504.0 344.9 504.2 344.5 504.4 345.5 504.6 345.4 504.8 344.3 505.0 344.9 505.2 345.3 505.4 344.7 505.6 344.7 505.8 345.6 506.0 345.4 506.2 344.4 506.4 344.9 506.6 345.1 506.8 345.3 507.0 345.0 507.2 346.3 507.4 344.9 507.6 344.8 507.8 345.6 508.0 344.1 508.2 344.8 508.4 345.8 508.6 344.6 508.8 344.9 509.0 346.1 509.2 345.7 509.4 345.4 509.6 345.5 509.8 344.9 510.0 345.5 510.2 345.2 510.4 346.9 510.6 345.7 510.8 345.1 511.0 345.3 511.2 345.4 511.4 344.5 511.6 344.9 511.8 346.3 512.0 344.5 512.2 345.1 512.4 346.1 512.6 346.4 512.8 344.8 513.0 346.4 513.2 345.3 513.4 346.6 513.6 345.9 513.8 345.4 514.0 346.0 514.2 346.0 514.4 345.1 514.6 347.0 514.8 345.4 515.0 346.4 515.2 345.4 515.4 344.6 515.6 345.0 515.8 345.7 516.0 346.2 516.2 346.9 516.4 345.9 516.6 345.7 516.8 345.1 517.0 345.8 517.2 346.1 517.4 344.5 517.6 346.7 517.8 346.7 518.0 347.4 518.2 345.4 518.4 346.0 518.6 346.0 518.8 345.2 519.0 345.6 519.2 345.5 519.4 346.4 519.6 346.4 519.8 347.0 520.0 345.9 520.2 345.3 520.4 346.5 520.6 346.5 520.8 346.7 521.0 347.1 521.2 345.9 521.4 346.8 521.6 345.7 521.8 346.5 522.0 346.8 522.2 346.3 522.4 346.6 522.6 345.6 522.8 346.1 523.0 346.6 523.2 345.8 523.4 346.0 523.6 348.1 523.8 346.7 524.0 346.1 524.2 346.0 524.4 347.5 524.6 344.9 524.8 346.4 525.0 347.1 525.2 346.3 525.4 347.0 525.6 346.1 525.8 346.7 526.0 346.8 526.2 346.8 526.4 346.9 526.6 346.8 526.8 347.5 527.0 346.7 527.2 346.5 527.4 346.7 527.6 346.7 527.8 346.0 528.0 345.8 528.2 346.1 528.4 347.2 528.6 346.6 528.8 346.8 529.0 348.8 529.2 347.8 529.4 347.0 529.6 346.7 529.8 348.0 530.0 346.7 530.2 347.9 530.4 347.6 530.6 348.1 530.8 346.8 531.0 347.8 531.2 346.2 531.4 347.2"/>
<path stroke="#ff0000" d="M41.0 271.9L41.2 271.4 41.4 271.4 41.6 269.9 41.8 273.0 42.0 272.5 42.2 271.3 42.4 272.1 42.6 271.7 42.8 271.1 43.0 272.2 43.2 271.2 43.4 271.1 43.6 270.7 43.8 271.6 44.0 271.2 44.2 271.6 44.4 270.7 44.6 271.2 44.8 270.4 45.0 271.7 45.2 271.2 45.4 271.2 45.6 271.3 45.8 270.2 46.0 271.5 46.2 272.4 46.4 269.6 46.6 269.5 46.8 269.6 47.0 271.3 47.2 270.7 47.4 271.4 47.6 271.1 47.8 270.7 48.0 270.7 48.2 270.3 48.4 271.1 48.6 269.5 48.8 270.0 49.0 270.5 49.2 271.7 49.4 269.8 49.6 269.6 49.8 270.0 50.0 271.2 50.2 270.4 50.4 271.6 50.6 269.2 50.8 271.5 51.0 271.5 51.2 269.7 51.4 270.9 51.6 271.7 51.8 270.9 52.0 271.6 52.2 272.7 52.4 271.2 52.6 270.8 52.8 270.4 53.0 271.5 53.2 270.9 53.4 271.0 53.6 271.1 53.8 271.7 54.0 270.4 54.2 270.1 54.4 269.5 54.6 272.2 54.8 271.4 55.0 272.6 55.2 271.4 55.4 270.9 55.6 271.9 55.8 271.5 56.0 270.6 56.2 271.0 56.4 273.0 56.6 272.0 56.8 272.0 57.0 271.5 57.2 271.3 57.4 272.5 57.6 271.8 57.8 271.3 58.0 271.8 58.2 271.3 58.4 272.1 58.6 272.8 58.8 271.4 59.0 273.1 59.2 271.6 59.4 272.2 59.6 271.5 59.8 272.0 60.0 272.2 60.2 271.9 60.4 271.7 60.6 271.7 60.8 271.7 61.0 271.1 61.2 272.1 61.4 272.6 61.6 273.0 61.8 272.8 62.0 274.2 62.2 272.6 62.4 272.0 62.6 273.8 62.8 271.6 63.0 273.1 63.2 271.7 63.4 272.6 63.6 270.9 63.8 273.0 64.0 272.2 64.2 271.5 64.4 273.5 64.6 272.7 64.8 272.1 65.0 271.5 65.2 272.0 65.4 271.8 65.6 272.4 65.8 272.4 66.0 271.2 66.2 271.2 66.4 271.1 66.6 270.3 66.8 270.8 67.0 271.0 67.2 271.4 67.4 271.7 67.6 269.9 67.8 270.7 68.0 269.6 68.2 271.2 68.4 269.3 68.6 269.3 68.8 267.7 69.0 267.2 69.2 267.4 69.4 266.1 69.6 265.8 69.8 263.3 70.0 263.6 70.2 260.8 70.4 260.8 70.6 256.8 70.8 254.7 71.0 249.1 71.2 245.9 71.4 239.5 71.6 233.6 71.8 227.6 72.0 221.6 72.2 218.3 72.4 217.8 72.6 219.7 72.8 223.0 73.0 226.3 73.2 230.5 73.4 233.5 73.6 233.3 73.8 235.2 74.0 232.9 74.2 230.5 74.4 228.7 74.6 226.6 74.8 226.2 75.0 227.5 75.2 232.8 75.4 238.1 75.6 242.5 75.8 248.8 76.0 252.6 76.2 254.3 76.4 258.7 76.6 260.0 76.8 263.7 77.0 265.1 77.2 264.9 77.4 266.1 77.6 267.8 77.8 268.3 78.0 270.2 78.2 270.2 78.4 269.9 78.6 271.0 78.8 269.4 79.0 271.5 79.2 272.2 79.4 271.7 79.6 271.5 79.8 272.7 80.0 274.0 80.2 272.8 80.4 272.0 80.6 274.1 80.8 271.7 81.0 273.6 81.2 272.9 81.4 274.2 81.6 273.0 81.8 274.7 82.0 274.0 82.2 272.6 82.4 272.5 82.6 273.8 82.8 275.1 83.0 274.3 83.2 274.3 83.4 274.1 83.6 274.9 83.8 274.7 84.0 274.7 84.2 273.8 84.4 275.5 84.6 275.6 84.8 273.7 85.0 276.4 85.2 275.3 85.4 274.4 85.6 273.4 85.8 275.4 86.0 275.4 86.2 274.5 86.4 273.7 86.6 275.9 86.8 274.7 87.0 274.8 87.2 277.3 87.4 276.8 87.6 275.9 87.8 274.9 88.0 275.8 88.2 273.6 88.4 275.4 88.6 274.8 88.8 274.4 89.0 274.2 89.2 275.8 89.4 275.5 89.6 275.5 89.8 276.0 90.0 274.7 90.2 274.4 90.4 274.0 90.6 275.0 90.8 275.8 91.0 275.1 91.2 275.6 91.4 274.2 91.6 274.6 91.8 274.3 92.0 273.8 92.2 276.0 92.4 275.0 92.6 273.6 92.8 273.3 93.0 273.4 93.2 272.0 93.4 272.8 93.6 270.8 93.8 270.6 94.0 269.0 94.2 267.9 94.4 265.4 94.6 262.9 94.8 260.5 95.0 257.3 95.2 253.9 95.4 250.8 95.6 249.9 95.8 249.4 96.0 250.7 96.2 254.8 96.4 257.5 96.6 262.6 96.8 264.9 97.0 265.9 97.2 269.4 97.4 271.0 97.6 269.6 97.8 272.0 98.0 273.0 98.2 272.5 98.4 273.7 98.6 274.2 98.8 275.7 99.0 275.8 99.2 277.8 99.4 275.8 99.6 277.2 99.8 276.5 100.0 276.9 100.2 275.9 100.4 275.5 100.6 276.5 100.8 277.8 101.0 278.5 101.2 277.8 101.4 277.8 101.6 276.9 101.8 278.8 102.0 278.7 102.2 277.4 102.4 277.8 102.6 277.2 102.8 279.1 103.0 278.4 103.2 278.0 103.4 278.5 103.6 278.5 103.8 278.0 104.0 277.4 104.2 277.4 104.4 277.1 104.6 278.8 104.8 280.2 105.0 277.3 105.2 278.7 105.4 278.9 105.6 277.9 105.8 278.9 106.0 277.9 106.2 279.7 106.4 278.4 106.6 278.9 106.8 279.4 107.0 278.6 107.2 277.6 107.4 278.5 107.6 279.5 107.8 278.8 108.0 279.0 108.2 278.0 108.4 278.9 108.6 279.3 108.8 278.8 109.0 280.2 109.2 278.6 109.4 277.9 109.6 277.4 109.8 279.5 110.0 278.5 110.2 279.2 110.4 278.7 110.6 279.5 110.8 279.1 111.0 277.7 111.2 278.0 111.4 278.4 111.6 276.4 111.8 278.1 112.0 277.6 112.2 276.9 112.4 275.6 112.6 275.4 112.8 273.9 113.0 274.5 113.2 274.0 113.4 274.5 113.6 274.1 113.8 274.6 114.0 275.1 114.2 272.9 114.4 273.9 114.6 270.8 114.8 269.5 115.0 269.8 115.2 269.0 115.4 269.0 115.6 267.9 115.8 270.2 116.0 271.8 116.2 274.0 116.4 274.1 116.6 275.5 116.8 275.1 117.0 276.3 117.2 276.6 117.4 277.8 117.6 276.8 117.8 277.2 118.0 278.4 118.2 279.5 118.4 278.5 118.6 278.6 118.8 278.2 119.0 279.3 119.2 279.0 119.4 280.0 119.6 279.0 119.8 278.1 120.0 278.4 120.2 278.1 120.4 278.0 120.6 279.9 120.8 279.6 121.0 278.1 121.2 280.4 121.4 279.3 121.6 278.4 121.8 279.5 122.0 279.2 122.2 278.7 122.4 277.8 122.6 279.3 122.8 279.5 123.0 277.4 123.2 279.8 123.4 279.8 123.6 279.0 123.8 279.5 124.0 279.2 124.2 278.8 124.4 279.2 124.6 280.4 124.8 278.4 125.0 279.6 125.2 279.6 125.4 278.9 125.6 279.1 125.8 278.4 126.0 278.8 126.2 279.4 126.4 279.7 126.6 278.7 126.8 281.7 127.0 278.9 127.2 279.4 127.4 279.1 127.6 278.9 127.8 280.1 128.0 278.7 128.2 280.0 128.4 279.7 128.6 277.9 128.8 279.3 129.0 277.8 129.2 280.1 129.4 277.5 129.6 276.6 129.8 275.4 130.0 275.2 130.2 274.9 130.4 273.5 130.6 272.0 130.8 270.7 131.0 269.1 131.2 268.3 131.4 264.0 131.6 263.7 131.8 263.4 132.0 264.2 132.2 266.3 132.4 268.7 132.6 272.0 132.8 273.0 133.0 274.1 133.2 276.1 133.4 276.7 133.6 277.0 133.8 278.0 134.0 277.6 134.2 279.0 134.4 279.2 134.6 278.8 134.8 278.4 135.0 280.6 135.2 279.7 135.4 282.0 135.6 279.3 135.8 280.5 136.0 279.6 136.2 280.2 136.4 280.7 136.6 279.5 136.8 280.0 137.0 280.3 137.2 280.2 137.4 280.6 137.6 281.0 137.8 280.8 138.0 280.4 138.2 280.0 138.4 279.4 138.6 279.7 138.8 279.8 139.0 280.7 139.2 280.0 139.4 279.3 139.6 280.7 139.8 279.6 140.0 279.7 140.2 280.1 140.4 280.6 140.6 278.4 140.8 279.4 141.0 280.3 141.2 279.9 141.4 279.5 141.6 279.8 141.8 281.2 142.0 279.8 142.2 280.7 142.4 280.7 142.6 279.8 142.8 280.4 143.0 279.8 143.2 279.6 143.4 279.2 143.6 280.7 143.8 279.8 144.0 279.6 144.2 279.2 144.4 281.4 144.6 280.6 144.8 279.9 145.0 279.5 145.2 278.8 145.4 280.2 145.6 280.2 145.8 278.9 146.0 280.8 146.2 280.5 146.4 279.2 146.6 279.5 146.8 279.5 147.0 280.0 147.2 279.7 147.4 278.6 147.6 280.9 147.8 280.0 148.0 280.7 148.2 280.7 148.4 279.6 148.6 280.0 148.8 280.3 149.0 280.3 149.2 279.6 149.4 279.2 149.6 279.7 149.8 279.1 150.0 279.2 150.2 278.1 150.4 279.7 150.6 278.8 150.8 279.2 151.0 279.5 151.2 279.8 151.4 281.0 151.6 279.7 151.8 278.5 152.0 279.6 152.2 279.0 152.4 279.8 152.6 279.0 152.8 278.9 153.0 279.1 153.2 279.0 153.4 278.1 153.6 278.9 153.8 279.4 154.0 280.3 154.2 279.2 154.4 279.1 154.6 279.8 154.8 279.8 155.0 280.6 155.2 279.8 155.4 279.4 155.6 280.4 155.8 280.5 156.0 279.0 156.2 279.5 156.4 278.1 156.6 279.1 156.8 278.7 157.0 279.2 157.2 278.9 157.4 279.2 157.6 279.2 157.8 279.7 158.0 279.5 158.2 278.9 158.4 278.3 158.6 280.2 158.8 280.3 159.0 278.9 159.2 279.7 159.4 278.1 159.6 278.0 159.8 279.0 160.0 280.3 160.2 278.4 160.4 278.6 160.6 280.4 160.8 277.7 161.0 279.6 161.2 279.5 161.4 279.0 161.6 279.3 161.8 281.1 162.0 278.3 162.2 278.9 162.4 278.9 162.6 278.6 162.8 278.1 163.0 280.3 163.2 279.2 163.4 277.7 163.6 278.5 163.8 279.3 164.0 279.3 164.2 277.9 164.4 278.9 164.6 279.2 164.8 279.3 165.0 279.3 165.2 277.6 165.4 280.3 165.6 279.1 165.8 280.3 166.0 281.0 166.2 278.8 166.4 277.9 166.6 279.5 166.8 278.7 167.0 278.5 167.2 278.0 167.4 280.0 167.6 278.4 167.8 277.7 168.0 278.3 168.2 277.8 168.4 278.7 168.6 278.2 168.8 277.7 169.0 278.9 169.2 277.9 169.4 278.8 169.6 279.1 169.8 277.7 170.0 277.4 170.2 277.8 170.4 278.1 170.6 277.2 170.8 277.0 171.0 276.6 171.2 276.6 171.4 276.7 171.6 275.7 171.8 276.0 172.0 276.6 172.2 276.3 172.4 277.2 172.6 277.8 172.8 277.5 173.0 277.3 173.2 277.3 173.4 279.3 173.6 278.8 173.8 277.3 174.0 277.6 174.2 279.7 174.4 279.5 174.6 278.5 174.8 279.3 175.0 277.3 175.2 278.4 175.4 279.0 175.6 277.1 175.8 277.9 176.0 279.1 176.2 279.3 176.4 278.0 176.6 278.7 176.8 279.7 177.0 278.2 177.2 277.5 177.4 278.4 177.6 278.2 177.8 279.5 178.0 278.6 178.2 277.9 178.4 280.3 178.6 278.1 178.8 278.8 179.0 279.0 179.2 279.0 179.4 278.6 179.6 278.9 179.8 278.4 180.0 277.4 180.2 278.3 180.4 278.3 180.6 278.3 180.8 278.5 181.0 277.9 181.2 279.4 181.4 279.6 181.6 276.7 181.8 278.4 182.0 277.8 182.2 276.4 182.4 278.7 182.6 277.9 182.8 278.1 183.0 277.8 183.2 279.1 183.4 279.3 183.6 278.5 183.8 278.8 184.0 278.2 184.2 278.4 184.4 277.7 184.6 278.3 184.8 277.7 185.0 278.5 185.2 278.9 185.4 278.5 185.6 279.1 185.8 280.3 186.0 276.7 186.2 278.2 186.4 277.8 186.6 277.9 186.8 277.2 187.0 278.2 187.2 278.0 187.4 277.7 187.6 278.0 187.8 277.7 188.0 276.4 188.2 279.0 188.4 277.9 188.6 277.4 188.8 278.4 189.0 277.6 189.2 276.5 189.4 278.8 189.6 276.8 189.8 277.9 190.0 278.2 190.2 279.1 190.4 279.0 190.6 278.2 190.8 277.5 191.0 277.7 191.2 278.9 191.4 279.4 191.6 278.4 191.8 277.5 192.0 278.8 192.2 277.7 192.4 277.7 192.6 277.8 192.8 278.4 193.0 278.2 193.2 278.7 193.4 278.9 193.6 278.3 193.8 276.2 194.0 276.7 194.2 278.0 194.4 277.9 194.6 279.5 194.8 277.9 195.0 277.8 195.2 278.6 195.4 278.7 195.6 277.7 195.8 278.2 196.0 277.0 196.2 277.1 196.4 278.8 196.6 276.8 196.8 278.5 197.0 278.3 197.2 278.4 197.4 278.5 197.6 278.2 197.8 276.2 198.0 277.0 198.2 277.3 198.4 278.5 198.6 276.9 198.8 277.2 199.0 277.5 199.2 278.7 199.4 276.6 199.6 276.7 199.8 278.2 200.0 276.1 200.2 277.9 200.4 277.4 200.6 276.5 200.8 277.4 201.0 276.9 201.2 277.8 201.4 277.9 201.6 278.8 201.8 277.6 202.0 277.7 202.2 277.2 202.4 277.6 202.6 278.4 202.8 276.2 203.0 278.1 203.2 277.2 203.4 277.6 203.6 277.8 203.8 278.2 204.0 277.7 204.2 277.2 204.4 277.8 204.6 277.5 204.8 277.4 205.0 277.7 205.2 278.2 205.4 277.6 205.6 277.6 205.8 276.5 206.0 277.4 206.2 276.1 206.4 278.0 206.6 276.7 206.8 278.4 207.0 279.7 207.2 277.1 207.4 278.4 207.6 277.7 207.8 277.0 208.0 276.8 208.2 277.8 208.4 278.4 208.6 277.6 208.8 276.2 209.0 276.6 209.2 277.2 209.4 278.4 209.6 277.5 209.8 277.6 210.0 278.2 210.2 277.2 210.4 277.2 210.6 277.2 210.8 276.0 211.0 277.6 211.2 277.6 211.4 278.0 211.6 276.4 211.8 276.6 212.0 277.9 212.2 277.5 212.4 278.3 212.6 276.6 212.8 277.4 213.0 276.7 213.2 277.4 213.4 276.8 213.6 277.6 213.8 278.0 214.0 277.7 214.2 275.8 214.4 277.8 214.6 277.5 214.8 276.3 215.0 276.5 215.2 277.1 215.4 277.5 215.6 276.8 215.8 275.9 216.0 277.3 216.2 277.2 216.4 278.9 216.6 276.1 216.8 278.9 217.0 278.3 217.2 277.3 217.4 278.3 217.6 277.1 217.8 277.7 218.0 276.5 218.2 277.1 218.4 276.2 218.6 275.8 218.8 276.8 219.0 276.5 219.2 277.4 219.4 277.9 219.6 276.8 219.8 277.0 220.0 277.1 220.2 275.7 220.4 277.1 220.6 276.9 220.8 276.9 221.0 276.1 221.2 275.4 221.4 276.7 221.6 277.1 221.8 277.9 222.0 277.7 222.2 277.9 222.4 277.1 222.6 277.7 222.8 276.7 223.0 277.3 223.2 277.5 223.4 278.8 223.6 277.0 223.8 275.8 224.0 277.8 224.2 276.2 224.4 276.7 224.6 276.5 224.8 276.0 225.0 277.7 225.2 277.2 225.4 276.2 225.6 276.8 225.8 276.4 226.0 277.1 226.2 276.4 226.4 276.1 226.6 276.2 226.8 276.3 227.0 276.9 227.2 275.9 227.4 276.6 227.6 276.9 227.8 278.4 228.0 277.2 228.2 274.4 228.4 276.2 228.6 276.3 228.8 276.8 229.0 277.7 229.2 277.1 229.4 274.8 229.6 276.8 229.8 276.6 230.0 276.8 230.2 277.5 230.4 275.7 230.6 277.3 230.8 275.2 231.0 276.5 231.2 276.7 231.4 278.2 231.6 275.9 231.8 275.1 232.0 276.9 232.2 275.9 232.4 277.6 232.6 275.8 232.8 275.7 233.0 277.3 233.2 276.4 233.4 277.1 233.6 275.2 233.8 277.5 234.0 275.9 234.2 276.9 234.4 275.5 234.6 275.1 234.8 276.0 235.0 276.4 235.2 277.4 235.4 276.5 235.6 276.7 235.8 276.6 236.0 278.5 236.2 275.5 236.4 277.0 236.6 275.9 236.8 276.2 237.0 275.5 237.2 276.8 237.4 274.9 237.6 274.8 237.8 275.5 238.0 274.7 238.2 276.0 238.4 276.1 238.6 274.7 238.8 275.8 239.0 274.7 239.2 275.2 239.4 275.3 239.6 276.7 239.8 275.4 240.0 274.8 240.2 274.9 240.4 276.5 240.6 274.4 240.8 275.4 241.0 275.5 241.2 274.0 241.4 275.5 241.6 276.6 241.8 276.0 242.0 275.2 242.2 276.4 242.4 276.3 242.6 277.4 242.8 275.3 243.0 275.6 243.2 275.9 243.4 275.8 243.6 276.0 243.8 275.8 244.0 275.4 244.2 274.7 244.4 275.5 244.6 274.8 244.8 275.1 245.0 275.5 245.2 276.2 245.4 276.5 245.6 275.1 245.8 276.1 246.0 276.4 246.2 275.8 246.4 274.6 246.6 274.2 246.8 276.4 247.0 276.5 247.2 276.0 247.4 275.0 247.6 276.9 247.8 276.7 248.0 275.7 248.2 275.6 248.4 274.3 248.6 276.3 248.8 274.5 249.0 276.3 249.2 276.3 249.4 275.8 249.6 276.9 249.8 275.5 250.0 276.1 250.2 276.3 250.4 275.9 250.6 275.4 250.8 276.6 251.0 276.0 251.2 275.5 251.4 275.5 251.6 275.8 251.8 277.4 252.0 275.7 252.2 275.5 252.4 274.8 252.6 274.7 252.8 274.2 253.0 275.8 253.2 275.6 253.4 274.8 253.6 274.5 253.8 275.3 254.0 275.2 254.2 274.6 254.4 275.8 254.6 275.7 254.8 275.5 255.0 276.1 255.2 275.0 255.4 276.5 255.6 274.8 255.8 275.9 256.0 276.0 256.2 275.3 256.4 275.7 256.6 274.5 256.8 274.3 257.0 275.3 257.2 274.9 257.4 275.9 257.6 275.5 257.8 275.9 258.0 275.7 258.2 275.6 258.4 275.5 258.6 275.1 258.8 275.0 259.0 276.9 259.2 274.1 259.4 275.2 259.6 276.1 259.8 275.7 260.0 276.4 260.2 275.8 260.4 274.4 260.6 275.1 260.8 274.3 261.0 276.1 261.2 276.4 261.4 275.0 261.6 275.7 261.8 275.0 262.0 274.2 262.2 274.9 262.4 274.1 262.6 274.8 262.8 275.4 263.0 275.8 263.2 276.2 263.4 275.0 263.6 275.4 263.8 275.5 264.0 275.6 264.2 273.0 264.4 274.6 264.6 275.8 264.8 274.3 265.0 275.3 265.2 275.8 265.4 273.7 265.6 275.0 265.8 275.3 266.0 275.1 266.2 273.9 266.4 275.3 266.6 274.6 266.8 275.7 267.0 275.4 267.2 274.6 267.4 275.1 267.6 274.5 267.8 274.5 268.0 273.8 268.2 274.8 268.4 275.5 268.6 275.0 268.8 274.9 269.0 274.4 269.2 274.5 269.4 275.4 269.6 273.7 269.8 276.3 270.0 274.7 270.2 276.3 270.4 275.5 270.6 274.2 270.8 275.0 271.0 274.6 271.2 274.6 271.4 274.7 271.6 273.5 271.8 273.2 272.0 273.2 272.2 272.2 272.4 272.8 272.6 273.1 272.8 273.1 273.0 273.1 273.2 272.9 273.4 274.0 273.6 272.1 273.8 273.5 274.0 273.7 274.2 274.8 274.4 274.7 274.6 274.9 274.8 274.4 275.0 275.1 275.2 273.7 275.4 274.5 275.6 272.9 275.8 275.8 276.0 275.7 276.2 274.1 276.4 273.9 276.6 273.0 276.8 273.4 277.0 274.7 277.2 274.5 277.4 273.5 277.6 274.2 277.8 274.1 278.0 274.9 278.2 275.1 278.4 274.4 278.6 274.7 278.8 274.6 279.0 273.0 279.2 274.7 279.4 274.5 279.6 275.1 279.8 273.2 280.0 275.1 280.2 274.1 280.4 274.7 280.6 275.4 280.8 273.4 281.0 273.5 281.2 275.3 281.4 273.7 281.6 273.8 281.8 275.0 282.0 274.4 282.2 275.1 282.4 274.7 282.6 274.5 282.8 275.2 283.0 276.1 283.2 274.4 283.4 275.6 283.6 275.3 283.8 274.5 284.0 274.8 284.2 273.7 284.4 274.0 284.6 274.6 284.8 274.4 285.0 275.4 285.2 273.4 285.4 274.2 285.6 273.9 285.8 274.3 286.0 275.3 286.2 273.5 286.4 275.0 286.6 273.9 286.8 274.1 287.0 275.1 287.2 274.1 287.4 274.8 287.6 274.4 287.8 274.2 288.0 274.0 288.2 273.0 288.4 273.7 288.6 274.4 288.8 274.4 289.0 273.2 289.2 275.0 289.4 274.7 289.6 273.3 289.8 273.5 290.0 274.6 290.2 272.9 290.4 273.7 290.6 274.2 290.8 274.1 291.0 274.2 291.2 274.5 291.4 273.6 291.6 273.8 291.8 275.7 292.0 273.1 292.2 273.8 292.4 274.3 292.6 273.7 292.8 275.1 293.0 274.2 293.2 274.7 293.4 272.2 293.6 275.0 293.8 275.0 294.0 273.6 294.2 275.1 294.4 274.3 294.6 274.8 294.8 275.5 295.0 274.2 295.2 273.3 295.4 274.1 295.6 273.1 295.8 273.5 296.0 273.5 296.2 273.5 296.4 274.9 296.6 274.7 296.8 273.4 297.0 274.9 297.2 272.8 297.4 273.5 297.6 273.9 297.8 274.9 298.0 274.5 298.2 274.3 298.4 275.0 298.6 274.5 298.8 275.0 299.0 273.4 299.2 272.7 299.4 273.6 299.6 274.6 299.8 274.1 300.0 274.6 300.2 274.5 300.4 274.3 300.6 274.5 300.8 273.4 301.0 274.7 301.2 273.1 301.4 273.8 301.6 272.8 301.8 274.3 302.0 272.7 302.2 274.9 302.4 272.8 302.6 274.0 302.8 273.7 303.0 273.2 303.2 274.8 303.4 273.5 303.6 274.9 303.8 273.0 304.0 273.2 304.2 272.3 304.4 274.2 304.6 274.5 304.8 273.9 305.0 273.6 305.2 273.1 305.4 275.5 305.6 274.3 305.8 272.3 306.0 273.5 306.2 271.7 306.4 274.9 306.6 275.2 306.8 274.8 307.0 273.6 307.2 273.2 307.4 272.6 307.6 274.0 307.8 273.1 308.0 273.3 308.2 273.1 308.4 273.4 308.6 274.3 308.8 274.9 309.0 273.7 309.2 273.6 309.4 272.7 309.6 272.6 309.8 272.7 310.0 274.2 310.2 273.7 310.4 274.2 310.6 273.8 310.8 273.2 311.0 272.5 311.2 273.2 311.4 272.4 311.6 275.0 311.8 273.6 312.0 273.1 312.2 274.9 312.4 273.1 312.6 273.8 312.8 273.3 313.0 273.6 313.2 273.1 313.4 273.7 313.6 274.4 313.8 272.4 314.0 271.6 314.2 274.3 314.4 273.4 314.6 273.9 314.8 273.0 315.0 274.4 315.2 274.6 315.4 272.3 315.6 273.7 315.8 272.7 316.0 272.0 316.2 272.9 316.4 273.6 316.6 272.1 316.8 272.1 317.0 274.0 317.2 273.1 317.4 273.4 317.6 272.2 317.8 272.5 318.0 273.1 318.2 273.1 318.4 273.1 318.6 274.1 318.8 273.0 319.0 271.7 319.2 272.2 319.4 272.8 319.6 273.8 319.8 272.3 320.0 272.5 320.2 272.7 320.4 272.2 320.6 272.1 320.8 272.5 321.0 273.4 321.2 273.0 321.4 272.3 321.6 272.8 321.8 271.5 322.0 273.2 322.2 273.0 322.4 272.6 322.6 271.1 322.8 273.8 323.0 270.0 323.2 271.4 323.4 271.4 323.6 272.6 323.8 270.9 324.0 272.1 324.2 271.7 324.4 271.5 324.6 272.3 324.8 272.6 325.0 271.7 325.2 271.1 325.4 269.4 325.6 272.1 325.8 270.6 326.0 269.2 326.2 270.5 326.4 271.2 326.6 269.7 326.8 268.6 327.0 270.8 327.2 269.1 327.4 268.4 327.6 268.2 327.8 265.1 328.0 265.9 328.2 264.8 328.4 265.6 328.6 262.2 328.8 260.8 329.0 258.6 329.2 257.4 329.4 256.3 329.6 255.3 329.8 253.9 330.0 255.0 330.2 253.8 330.4 254.5 330.6 256.1 330.8 257.0 331.0 257.6 331.2 258.5 331.4 261.4 331.6 261.9 331.8 264.8 332.0 264.3 332.2 264.2 332.4 266.7 332.6 268.2 332.8 267.9 333.0 268.7 333.2 269.1 333.4 270.7 333.6 270.0 333.8 270.0 334.0 269.9 334.2 269.3 334.4 271.8 334.6 271.8 334.8 270.3 335.0 271.7 335.2 271.6 335.4 271.2 335.6 271.3 335.8 272.2 336.0 270.8 336.2 271.4 336.4 271.8 336.6 271.9 336.8 271.8 337.0 272.2 337.2 272.5 337.4 271.5 337.6 272.3 337.8 271.8 338.0 273.4 338.2 271.2 338.4 272.2 338.6 272.9 338.8 272.2 339.0 272.2 339.2 272.0 339.4 272.7 339.6 271.6 339.8 272.4 340.0 272.4 340.2 271.4 340.4 272.8 340.6 272.2 340.8 272.8 341.0 273.3 341.2 272.9 341.4 271.7 341.6 272.9 341.8 271.4 342.0 272.1 342.2 274.0 342.4 272.7 342.6 273.9 342.8 272.6 343.0 272.7 343.2 271.9 343.4 273.5 343.6 272.6 343.8 273.2 344.0 273.1 344.2 273.2 344.4 273.0 344.6 272.8 344.8 272.8 345.0 272.3 345.2 271.2 345.4 273.2 345.6 274.4 345.8 273.6 346.0 274.6 346.2 273.2 346.4 272.1 346.6 272.1 346.8 273.4 347.0 273.1 347.2 272.7 347.4 273.4 347.6 272.2 347.8 273.3 348.0 272.7 348.2 273.0 348.4 273.8 348.6 272.8 348.8 273.9 349.0 273.9 349.2 272.3 349.4 274.7 349.6 272.0 349.8 272.8 350.0 273.5 350.2 271.2 350.4 273.7 350.6 273.8 350.8 272.8 351.0 273.1 351.2 273.1 351.4 272.8 351.6 273.7 351.8 272.6 352.0 272.9 352.2 273.2 352.4 273.6 352.6 273.8 352.8 271.8 353.0 271.4 353.2 272.8 353.4 272.9 353.6 272.1 353.8 273.2 354.0 273.4 354.2 273.2 354.4 274.2 354.6 272.2 354.8 273.0 355.0 274.4 355.2 273.5 355.4 272.1 355.6 273.1 355.8 273.8 356.0 274.5 356.2 273.4 356.4 273.8 356.6 272.1 356.8 272.7 357.0 273.8 357.2 272.2 357.4 272.8 357.6 271.5 357.8 274.0 358.0 272.8 358.2 273.3 358.4 271.7 358.6 271.8 358.8 274.2 359.0 272.5 359.2 272.4 359.4 273.2 359.6 273.2 359.8 271.2 360.0 272.0 360.2 272.7 360.4 272.7 360.6 272.9 360.8 272.3 361.0 272.4 361.2 272.7 361.4 272.0 361.6 271.8 361.8 271.9 362.0 272.3 362.2 272.0 362.4 271.7 362.6 271.7 362.8 271.7 363.0 271.7 363.2 271.5 363.4 269.9 363.6 271.3 363.8 268.9 364.0 270.0 364.2 268.4 364.4 268.6 364.6 268.3 364.8 265.3 365.0 266.6 365.2 266.0 365.4 265.5 365.6 266.5 365.8 266.4 366.0 267.6 366.2 267.5 366.4 269.6 366.6 270.1 366.8 270.8 367.0 270.2 367.2 272.5 367.4 273.0 367.6 271.7 367.8 271.7 368.0 271.9 368.2 272.9 368.4 273.3 368.6 272.1 368.8 271.2 369.0 273.2 369.2 272.9 369.4 273.1 369.6 273.5 369.8 272.3 370.0 273.2 370.2 273.0 370.4 273.6 370.6 274.2 370.8 273.4 371.0 272.7 371.2 274.4 371.4 274.0 371.6 273.3 371.8 272.1 372.0 272.8 372.2 273.6 372.4 273.9 372.6 273.1 372.8 273.8 373.0 273.0 373.2 273.2 373.4 273.9 373.6 273.2 373.8 273.5 374.0 274.0 374.2 274.1 374.4 272.7 374.6 272.9 374.8 272.0 375.0 272.0 375.2 273.3 375.4 272.7 375.6 271.8 375.8 273.7 376.0 272.8 376.2 273.3 376.4 273.9 376.6 274.0 376.8 273.7 377.0 272.4 377.2 274.3 377.4 273.5 377.6 272.9 377.8 272.4 378.0 275.1 378.2 274.2 378.4 274.2 378.6 274.6 378.8 274.2 379.0 273.1 379.2 274.8 379.4 275.0 379.6 274.7 379.8 275.5 380.0 275.8 380.2 273.8 380.4 274.1 380.6 275.1 380.8 274.6 381.0 274.6 381.2 275.2 381.4 275.0 381.6 274.2 381.8 274.6 382.0 274.0 382.2 274.4 382.4 273.7 382.6 273.1 382.8 274.2 383.0 274.2 383.2 275.3 383.4 275.8 383.6 274.7 383.8 275.1 384.0 274.2 384.2 274.0 384.4 274.5 384.6 274.6 384.8 275.0 385.0 274.9 385.2 276.1 385.4 274.7 385.6 273.6 385.8 275.0 386.0 274.4 386.2 275.1 386.4 275.8 386.6 274.4 386.8 274.9 387.0 275.3 387.2 274.3 387.4 275.2 387.6 275.4 387.8 275.6 388.0 275.9 388.2 275.5 388.4 275.4 388.6 274.0 388.8 273.1 389.0 274.4 389.2 276.2 389.4 275.2 389.6 273.5 389.8 274.9 390.0 275.5 390.2 273.8 390.4 275.7 390.6 274.4 390.8 276.0 391.0 275.3 391.2 277.6 391.4 274.3 391.6 275.5 391.8 274.2 392.0 276.2 392.2 275.5 392.4 276.1 392.6 275.5 392.8 274.5 393.0 274.9 393.2 274.5 393.4 274.7 393.6 275.6 393.8 276.3 394.0 276.1 394.2 275.9 394.4 275.1 394.6 276.0 394.8 275.0 395.0 275.8 395.2 276.3 395.4 275.5 395.6 275.3 395.8 275.4 396.0 276.2 396.2 275.5 396.4 274.7 396.6 275.5 396.8 275.0 397.0 277.0 397.2 275.9 397.4 274.8 397.6 276.1 397.8 276.5 398.0 276.3 398.2 275.7 398.4 276.1 398.6 276.3 398.8 276.8 399.0 276.4 399.2 277.8 399.4 276.0 399.6 277.3 399.8 276.2 400.0 274.9 400.2 275.4 400.4 274.9 400.6 275.0 400.8 277.2 401.0 275.8 401.2 276.8 401.4 275.7 401.6 276.4 401.8 275.6 402.0 277.1 402.2 276.2 402.4 276.1 402.6 276.4 402.8 278.1 403.0 276.8 403.2 277.2 403.4 275.6 403.6 276.1 403.8 276.8 404.0 275.2 404.2 277.6 404.4 276.8 404.6 276.6 404.8 276.5 405.0 276.5 405.2 276.3 405.4 277.7 405.6 277.2 405.8 277.6 406.0 276.4 406.2 276.0 406.4 277.6 406.6 275.7 406.8 276.1 407.0 277.1 407.2 277.3 407.4 275.5 407.6 276.2 407.8 276.3 408.0 276.1 408.2 275.5 408.4 276.5 408.6 275.4 408.8 275.4 409.0 273.6 409.2 274.9 409.4 273.2 409.6 274.8 409.8 274.2 410.0 273.0 410.2 273.0 410.4 272.7 410.6 272.3 410.8 272.7 411.0 272.6 411.2 272.7 411.4 272.9 411.6 275.3 411.8 274.7 412.0 275.0 412.2 275.9 412.4 275.5 412.6 275.8 412.8 276.8 413.0 277.3 413.2 277.2 413.4 275.8 413.6 277.1 413.8 277.2 414.0 277.6 414.2 276.7 414.4 276.7 414.6 277.5 414.8 277.0 415.0 276.9 415.2 277.7 415.4 278.5 415.6 277.9 415.8 278.7 416.0 277.2 416.2 278.5 416.4 278.0 416.6 277.4 416.8 277.8 417.0 277.5 417.2 278.0 417.4 277.6 417.6 279.1 417.8 277.9 418.0 277.2 418.2 278.1 418.4 278.6 418.6 278.1 418.8 279.0 419.0 277.7 419.2 277.7 419.4 279.6 419.6 278.4 419.8 278.8 420.0 278.8 420.2 278.9 420.4 278.5 420.6 278.4 420.8 279.3 421.0 278.2 421.2 278.7 421.4 279.1 421.6 278.3 421.8 277.5 422.0 279.0 422.2 279.5 422.4 278.9 422.6 277.5 422.8 279.2 423.0 280.2 423.2 277.6 423.4 276.8 423.6 278.6 423.8 278.9 424.0 279.4 424.2 279.5 424.4 278.9 424.6 279.3 424.8 279.2 425.0 279.0 425.2 278.9 425.4 278.8 425.6 279.5 425.8 279.3 426.0 278.7 426.2 279.8 426.4 278.5 426.6 278.9 426.8 279.2 427.0 277.7 427.2 278.8 427.4 279.8 427.6 279.7 427.8 278.3 428.0 278.6 428.2 278.4 428.4 279.0 428.6 279.2 428.8 278.1 429.0 279.5 429.2 279.3 429.4 279.2 429.6 278.8 429.8 279.2 430.0 278.0 430.2 279.5 430.4 279.5 430.6 279.3 430.8 278.5 431.0 280.3 431.2 280.3 431.4 278.1 431.6 279.8 431.8 279.6 432.0 277.6 432.2 279.9 432.4 280.0 432.6 280.1 432.8 279.7 433.0 279.1 433.2 279.2 433.4 280.0 433.6 280.5 433.8 279.3 434.0 279.4 434.2 280.2 434.4 278.1 434.6 280.0 434.8 279.5 435.0 278.1 435.2 280.3 435.4 279.1 435.6 280.4 435.8 280.8 436.0 278.9 436.2 278.9 436.4 279.8 436.6 278.6 436.8 280.4 437.0 280.0 437.2 280.6 437.4 278.6 437.6 280.1 437.8 280.3 438.0 278.6 438.2 280.6 438.4 279.0 438.6 280.1 438.8 279.1 439.0 280.6 439.2 281.3 439.4 280.1 439.6 280.1 439.8 281.1 440.0 279.8 440.2 280.2 440.4 280.8 440.6 280.5 440.8 281.4 441.0 281.1 441.2 281.7 441.4 280.3 441.6 281.2 441.8 279.8 442.0 281.1 442.2 281.7 442.4 282.2 442.6 279.6 442.8 280.4 443.0 281.0 443.2 279.9 443.4 281.0 443.6 281.0 443.8 280.3 444.0 280.2 444.2 280.0 444.4 280.9 444.6 281.6 444.8 280.9 445.0 282.8 445.2 279.7 445.4 280.4 445.6 281.3 445.8 280.0 446.0 281.1 446.2 281.5 446.4 281.0 446.6 280.8 446.8 281.6 447.0 281.3 447.2 281.5 447.4 281.4 447.6 280.5 447.8 280.2 448.0 280.8 448.2 281.2 448.4 281.0 448.6 281.8 448.8 281.3 449.0 281.9 449.2 281.2 449.4 280.6 449.6 281.8 449.8 281.6 450.0 280.6 450.2 280.9 450.4 283.3 450.6 278.8 450.8 282.1 451.0 281.3 451.2 281.2 451.4 281.1 451.6 280.9 451.8 283.0 452.0 281.0 452.2 281.1 452.4 281.9 452.6 281.6 452.8 281.2 453.0 281.1 453.2 280.3 453.4 282.1 453.6 280.5 453.8 279.5 454.0 282.1 454.2 281.8 454.4 281.5 454.6 280.9 454.8 282.1 455.0 280.4 455.2 279.6 455.4 281.3 455.6 281.8 455.8 281.6 456.0 282.7 456.2 281.7 456.4 280.9 456.6 280.9 456.8 281.6 457.0 280.9 457.2 280.8 457.4 279.5 457.6 280.5 457.8 279.7 458.0 280.7 458.2 280.6 458.4 280.9 458.6 281.5 458.8 279.9 459.0 281.0 459.2 278.9 459.4 279.7 459.6 280.0 459.8 280.5 460.0 278.0 460.2 278.3 460.4 278.3 460.6 277.7 460.8 276.7 461.0 275.8 461.2 275.6 461.4 276.0 461.6 274.5 461.8 276.3 462.0 275.3 462.2 272.4 462.4 273.0 462.6 273.8 462.8 273.5 463.0 273.0 463.2 270.9 463.4 271.6 463.6 273.0 463.8 272.3 464.0 272.2 464.2 273.4 464.4 274.3 464.6 274.2 464.8 274.9 465.0 276.1 465.2 275.5 465.4 275.8 465.6 277.6 465.8 276.6 466.0 278.4 466.2 277.9 466.4 279.5 466.6 278.3 466.8 280.4 467.0 280.1 467.2 280.0 467.4 279.8 467.6 280.6 467.8 280.2 468.0 280.2 468.2 282.1 468.4 281.9 468.6 282.6 468.8 280.8 469.0 280.5 469.2 280.9 469.4 282.7 469.6 282.9 469.8 281.0 470.0 283.2 470.2 282.2 470.4 281.8 470.6 282.7 470.8 283.2 471.0 282.7 471.2 282.8 471.4 282.4 471.6 282.0 471.8 282.9 472.0 282.0 472.2 283.7 472.4 282.7 472.6 284.4 472.8 282.2 473.0 284.5 473.2 282.9 473.4 282.9 473.6 283.8 473.8 284.3 474.0 283.7 474.2 283.5 474.4 285.3 474.6 284.2 474.8 283.0 475.0 283.7 475.2 285.2 475.4 284.2 475.6 284.6 475.8 285.6 476.0 283.7 476.2 284.4 476.4 283.6 476.6 284.1 476.8 284.6 477.0 283.2 477.2 284.3 477.4 284.3 477.6 285.0 477.8 283.8 478.0 283.3 478.2 284.6 478.4 283.4 478.6 284.4 478.8 284.7 479.0 283.6 479.2 284.2 479.4 283.5 479.6 282.2 479.8 283.2 480.0 282.8 480.2 284.4 480.4 283.6 480.6 284.3 480.8 284.3 481.0 285.2 481.2 284.1 481.4 284.1 481.6 284.8 481.8 285.6 482.0 284.4 482.2 284.7 482.4 284.3 482.6 283.9 482.8 283.3 483.0 284.4 483.2 284.3 483.4 284.3 483.6 286.0 483.8 284.3 484.0 284.8 484.2 284.3 484.4 285.4 484.6 284.3 484.8 286.0 485.0 284.4 485.2 285.2 485.4 285.3 485.6 284.4 485.8 285.2 486.0 284.6 486.2 284.0 486.4 284.1 486.6 284.9 486.8 286.0 487.0 284.3 487.2 285.0 487.4 284.0 487.6 284.8 487.8 283.7 488.0 284.1 488.2 284.7 488.4 284.1 488.6 284.5 488.8 285.4 489.0 284.6 489.2 284.2 489.4 283.8 489.6 284.3 489.8 285.6 490.0 284.7 490.2 284.6 490.4 285.3 490.6 285.4 490.8 285.5 491.0 284.5 491.2 284.1 491.4 283.5 491.6 284.3 491.8 284.5 492.0 285.3 492.2 285.0 492.4 284.4 492.6 285.5 492.8 283.9 493.0 284.0 493.2 283.9 493.4 284.0 493.6 284.6 493.8 284.2 494.0 284.3 494.2 285.8 494.4 283.7 494.6 284.1 494.8 284.7 495.0 285.2 495.2 285.2 495.4 284.7 495.6 284.6 495.8 284.7 496.0 285.4 496.2 284.2 496.4 283.1 496.6 285.0 496.8 284.0 497.0 284.9 497.2 286.0 497.4 285.0 497.6 286.3 497.8 283.7 498.0 285.1 498.2 285.2 498.4 285.6 498.6 284.4 498.8 285.1 499.0 285.1 499.2 285.0 499.4 283.9 499.6 283.7 499.8 285.4 500.0 285.3 500.2 285.1 500.4 285.5 500.6 285.9 500.8 284.2 501.0 285.7 501.2 286.3 501.4 286.0 501.6 285.7 501.8 285.8 502.0 284.2 502.2 285.0 502.4 286.1 502.6 286.5 502.8 285.8 503.0 285.1 503.2 285.4 503.4 286.2 503.6 287.1 503.8 286.2 504.0 285.2 504.2 286.1 504.4 286.0 504.6 287.5 504.8 286.2 505.0 285.8 505.2 285.8 505.4 284.9 505.6 285.1 505.8 285.5 506.0 285.3 506.2 286.1 506.4 286.1 506.6 286.7 506.8 287.2 507.0 286.2 507.2 286.0 507.4 284.8 507.6 286.5 507.8 286.7 508.0 285.7 508.2 286.0 508.4 285.8 508.6 287.1 508.8 286.8 509.0 287.3 509.2 285.5 509.4 288.4 509.6 285.8 509.8 285.7 510.0 286.7 510.2 286.1 510.4 288.0 510.6 286.3 510.8 286.1 511.0 287.4 511.2 287.6 511.4 286.1 511.6 286.4 511.8 286.5 512.0 286.7 512.2 288.1 512.4 287.8 512.6 287.7 512.8 287.9 513.0 287.0 513.2 287.7 513.4 287.0 513.6 286.5 513.8 288.3 514.0 285.8 514.2 287.1 514.4 286.7 514.6 286.0 514.8 286.9 515.0 287.3 515.2 287.6 515.4 286.7 515.6 287.9 515.8 287.6 516.0 288.0 516.2 286.0 516.4 287.1 516.6 287.0 516.8 287.9 517.0 286.9 517.2 287.1 517.4 286.6 517.6 286.6 517.8 286.8 518.0 288.2 518.2 286.7 518.4 285.7 518.6 287.8 518.8 287.2 519.0 288.0 519.2 288.0 519.4 287.4 519.6 287.3 519.8 287.2 520.0 287.6 520.2 287.0 520.4 287.8 520.6 288.7 520.8 287.2 521.0 287.2 521.2 287.2 521.4 288.2 521.6 288.2 521.8 288.8 522.0 288.3 522.2 287.8 522.4 288.1 522.6 286.8 522.8 288.2 523.0 287.9 523.2 289.4 523.4 288.9 523.6 287.2 523.8 287.4 524.0 288.5 524.2 286.3 524.4 287.2 524.6 288.2 524.8 288.4 525.0 288.1 525.2 288.8 525.4 287.7 525.6 288.0 525.8 287.8 526.0 287.2 526.2 288.0 526.4 287.6 526.6 288.1 526.8 286.1 527.0 288.1 527.2 287.6 527.4 287.6 527.6 288.1 527.8 287.7 528.0 288.8 528.2 289.0 528.4 288.8 528.6 288.9 528.8 288.4 529.0 288.2 529.2 287.2 529.4 287.9 529.6 289.1 529.8 288.8 530.0 287.8 530.2 288.3 530.4 289.0 530.6 288.1 530.8 289.5 531.0 287.7 531.2 288.9 531.4 288.8"/>
<path stroke="#0000ff" d="M41.0 214.1L41.2 214.5 41.4 214.1 41.6 212.9 41.8 214.6 42.0 214.3 42.2 213.6 42.4 214.4 42.6 214.3 42.8 214.3 43.0 214.1 43.2 214.5 43.4 213.6 43.6 214.0 43.8 213.8 44.0 214.6 44.2 214.2 44.4 214.0 44.6 213.7 44.8 214.1 45.0 214.3 45.2 214.1 45.4 215.3 45.6 215.1 45.8 212.3 46.0 213.0 46.2 214.3 46.4 214.1 46.6 214.6 46.8 214.6 47.0 216.1 47.2 213.7 47.4 214.3 47.6 216.1 47.8 215.1 48.0 215.1 48.2 214.2 48.4 213.4 48.6 214.8 48.8 214.8 49.0 213.8 49.2 214.2 49.4 214.7 49.6 214.1 49.8 214.7 50.0 214.9 50.2 214.8 50.4 214.5 50.6 215.3 50.8 215.5 51.0 215.1 51.2 214.3 51.4 215.5 51.6 214.6 51.8 215.6 52.0 214.2 52.2 215.7 52.4 215.0 52.6 214.1 52.8 214.8 53.0 215.1 53.2 215.3 53.4 214.4 53.6 214.3 53.8 215.3 54.0 214.8 54.2 215.4 54.4 215.8 54.6 214.0 54.8 215.4 55.0 216.2 55.2 215.0 55.4 214.7 55.6 215.8 55.8 215.5 56.0 216.0 56.2 215.1 56.4 214.2 56.6 215.3 56.8 215.0 57.0 216.0 57.2 215.5 57.4 214.2 57.6 214.5 57.8 216.1 58.0 215.9 58.2 215.0 58.4 215.4 58.6 215.8 58.8 215.8 59.0 216.1 59.2 215.7 59.4 215.4 59.6 215.3 59.8 216.3 60.0 213.8 60.2 215.4 60.4 215.5 60.6 214.4 60.8 215.7 61.0 215.0 61.2 216.1 61.4 215.4 61.6 216.0 61.8 216.4 62.0 215.8 62.2 214.8 62.4 214.3 62.6 216.7 62.8 215.3 63.0 214.9 63.2 215.5 63.4 215.3 63.6 216.0 63.8 215.4 64.0 215.4 64.2 214.8 64.4 215.7 64.6 214.6 64.8 215.8 65.0 216.4 65.2 214.1 65.4 213.3 65.6 215.6 65.8 217.0 66.0 214.3 66.2 214.0 66.4 215.3 66.6 214.2 66.8 214.3 67.0 214.3 67.2 214.8 67.4 214.0 67.6 214.3 67.8 213.8 68.0 213.1 68.2 213.3 68.4 212.5 68.6 212.9 68.8 211.8 69.0 211.4 69.2 212.9 69.4 211.2 69.6 210.6 69.8 210.3 70.0 208.8 70.2 208.0 70.4 207.4 70.6 205.9 70.8 203.2 71.0 202.8 71.2 199.3 71.4 196.1 71.6 192.7 71.8 188.8 72.0 185.2 72.2 177.1 72.4 171.3 72.6 162.4 72.8 157.2 73.0 152.6 73.2 148.8 73.4 148.5 73.6 151.5 73.8 155.2 74.0 158.2 74.2 160.7 74.4 158.7 74.6 154.2 74.8 146.8 75.0 134.8 75.2 119.3 75.4 104.5 75.6 99.3 75.8 106.6 76.0 126.6 76.2 144.9 76.4 160.8 76.6 174.6 76.8 184.4 77.0 190.6 77.2 195.6 77.4 198.7 77.6 204.6 77.8 205.6 78.0 206.0 78.2 207.9 78.4 209.9 78.6 209.8 78.8 212.0 79.0 212.4 79.2 214.3 79.4 214.8 79.6 212.6 79.8 215.1 80.0 214.3 80.2 216.7 80.4 216.4 80.6 217.0 80.8 216.1 81.0 218.5 81.2 218.9 81.4 216.8 81.6 218.1 81.8 217.5 82.0 218.2 82.2 217.4 82.4 219.9 82.6 218.0 82.8 218.6 83.0 219.3 83.2 218.6 83.4 219.0 83.6 218.9 83.8 219.3 84.0 218.7 84.2 219.3 84.4 219.6 84.6 219.6 84.8 220.0 85.0 219.8 85.2 220.6 85.4 219.9 85.6 220.1 85.8 219.8 86.0 219.9 86.2 219.4 86.4 220.8 86.6 219.6 86.8 220.0 87.0 220.8 87.2 220.9 87.4 220.4 87.6 219.2 87.8 221.0 88.0 221.0 88.2 219.7 88.4 221.4 88.6 220.3 88.8 220.0 89.0 221.0 89.2 220.8 89.4 221.1 89.6 219.7 89.8 222.3 90.0 220.4 90.2 219.7 90.4 221.3 90.6 220.6 90.8 221.1 91.0 220.5 91.2 220.7 91.4 220.8 91.6 220.0 91.8 221.0 92.0 220.0 92.2 219.6 92.4 220.1 92.6 220.2 92.8 219.5 93.0 218.8 93.2 219.5 93.4 217.4 93.6 217.4 93.8 217.7 94.0 215.9 94.2 216.1 94.4 214.9 94.6 214.2 94.8 211.0 95.0 208.8 95.2 206.3 95.4 199.9 95.6 198.1 95.8 187.1 96.0 176.4 96.2 164.8 96.4 152.4 96.6 146.1 96.8 153.0 97.0 165.0 97.2 176.8 97.4 187.7 97.6 196.5 97.8 201.5 98.0 207.0 98.2 210.1 98.4 211.9 98.6 213.3 98.8 215.6 99.0 216.3 99.2 218.7 99.4 218.8 99.6 220.0 99.8 220.0 100.0 220.6 100.2 220.2 100.4 221.7 100.6 222.8 100.8 221.5 101.0 221.5 101.2 222.1 101.4 222.0 101.6 222.0 101.8 222.8 102.0 222.6 102.2 224.1 102.4 223.1 102.6 223.5 102.8 224.0 103.0 223.2 103.2 224.6 103.4 223.1 103.6 223.1 103.8 223.5 104.0 223.8 104.2 222.9 104.4 224.0 104.6 222.8 104.8 225.2 105.0 224.1 105.2 223.8 105.4 223.6 105.6 224.1 105.8 224.2 106.0 223.7 106.2 223.8 106.4 224.4 106.6 224.2 106.8 225.4 107.0 225.6 107.2 224.7 107.4 225.1 107.6 223.8 107.8 225.3 108.0 224.8 108.2 225.3 108.4 226.1 108.6 223.2 108.8 225.2 109.0 224.2 109.2 225.5 109.4 224.0 109.6 224.7 109.8 225.2 110.0 225.5 110.2 225.1 110.4 224.5 110.6 224.7 110.8 225.8 111.0 225.1 111.2 223.8 111.4 225.7 111.6 225.4 111.8 225.7 112.0 224.8 112.2 225.6 112.4 224.1 112.6 225.3 112.8 224.4 113.0 225.2 113.2 225.3 113.4 223.9 113.6 224.2 113.8 224.1 114.0 224.7 114.2 224.0 114.4 222.1 114.6 222.9 114.8 222.4 115.0 222.6 115.2 218.6 115.4 217.9 115.6 217.3 115.8 212.6 116.0 209.4 116.2 207.1 116.4 204.4 116.6 201.9 116.8 204.1 117.0 206.9 117.2 211.6 117.4 213.8 117.6 217.3 117.8 217.9 118.0 220.1 118.2 221.4 118.4 223.2 118.6 223.5 118.8 223.1 119.0 224.7 119.2 225.1 119.4 224.8 119.6 224.9 119.8 225.2 120.0 224.3 120.2 225.9 120.4 226.0 120.6 225.4 120.8 226.7 121.0 225.2 121.2 225.9 121.4 226.0 121.6 228.0 121.8 225.4 122.0 227.0 122.2 227.4 122.4 227.0 122.6 227.7 122.8 226.1 123.0 225.2 123.2 227.5 123.4 226.1 123.6 226.8 123.8 226.1 124.0 227.8 124.2 227.7 124.4 226.5 124.6 227.8 124.8 227.2 125.0 227.0 125.2 227.1 125.4 226.9 125.6 227.5 125.8 227.3 126.0 226.8 126.2 227.8 126.4 226.6 126.6 227.2 126.8 227.3 127.0 228.1 127.2 226.6 127.4 228.2 127.6 227.0 127.8 226.7 128.0 226.2 128.2 227.1 128.4 226.6 128.6 225.7 128.8 225.6 129.0 225.9 129.2 225.6 129.4 226.8 129.6 226.7 129.8 226.1 130.0 225.4 130.2 224.4 130.4 224.3 130.6 224.3 130.8 224.5 131.0 222.6 131.2 220.4 131.4 219.0 131.6 216.4 131.8 213.3 132.0 210.0 132.2 205.9 132.4 202.8 132.6 198.6 132.8 199.6 133.0 202.8 133.2 205.9 133.4 211.5 133.6 214.5 133.8 216.6 134.0 219.3 134.2 220.8 134.4 221.9 134.6 223.0 134.8 224.0 135.0 224.8 135.2 224.4 135.4 225.4 135.6 224.6 135.8 226.3 136.0 226.8 136.2 226.6 136.4 226.9 136.6 227.3 136.8 226.5 137.0 226.9 137.2 227.6 137.4 228.0 137.6 227.7 137.8 229.3 138.0 227.4 138.2 228.3 138.4 228.6 138.6 227.6 138.8 227.1 139.0 226.9 139.2 228.0 139.4 228.7 139.6 228.1 139.8 228.1 140.0 227.7 140.2 228.5 140.4 226.5 140.6 228.3 140.8 228.2 141.0 227.2 141.2 229.8 141.4 227.2 141.6 227.5 141.8 227.4 142.0 229.2 142.2 227.7 142.4 228.9 142.6 228.8 142.8 228.6 143.0 227.5 143.2 228.0 143.4 229.8 143.6 227.6 143.8 227.9 144.0 228.4 144.2 229.2 144.4 228.8 144.6 229.2 144.8 227.8 145.0 229.4 145.2 229.1 145.4 227.5 145.6 229.9 145.8 230.5 146.0 228.2 146.2 228.8 146.4 229.9 146.6 227.7 146.8 227.4 147.0 227.9 147.2 228.5 147.4 228.5 147.6 229.4 147.8 229.1 148.0 228.0 148.2 229.4 148.4 230.4 148.6 229.9 148.8 229.8 149.0 229.1 149.2 229.8 149.4 228.4 149.6 229.7 149.8 229.0 150.0 230.0 150.2 229.5 150.4 228.3 150.6 229.3 150.8 230.1 151.0 228.4 151.2 228.8 151.4 228.7 151.6 228.1 151.8 230.0 152.0 230.3 152.2 229.9 152.4 229.5 152.6 229.3 152.8 229.6 153.0 228.8 153.2 230.1 153.4 230.2 153.6 230.1 153.8 229.1 154.0 229.5 154.2 229.4 154.4 230.9 154.6 229.7 154.8 228.1 155.0 229.9 155.2 231.0 155.4 230.1 155.6 230.3 155.8 229.7 156.0 228.2 156.2 228.3 156.4 228.8 156.6 229.6 156.8 230.0 157.0 230.3 157.2 229.5 157.4 230.5 157.6 229.6 157.8 229.3 158.0 230.5 158.2 229.2 158.4 227.8 158.6 229.1 158.8 230.0 159.0 227.6 159.2 229.7 159.4 229.7 159.6 228.9 159.8 228.9 160.0 229.6 160.2 229.6 160.4 231.0 160.6 230.3 160.8 228.9 161.0 229.4 161.2 230.6 161.4 231.5 161.6 230.4 161.8 230.4 162.0 231.5 162.2 230.2 162.4 230.0 162.6 229.1 162.8 229.8 163.0 231.9 163.2 229.2 163.4 230.3 163.6 229.2 163.8 230.4 164.0 231.0 164.2 230.1 164.4 230.9 164.6 230.9 164.8 230.7 165.0 231.7 165.2 231.0 165.4 230.2 165.6 229.9 165.8 229.8 166.0 230.8 166.2 230.2 166.4 232.5 166.6 231.8 166.8 230.3 167.0 230.2 167.2 231.7 167.4 229.1 167.6 230.1 167.8 231.2 168.0 229.8 168.2 230.1 168.4 230.2 168.6 230.9 168.8 230.5 169.0 230.7 169.2 230.8 169.4 230.3 169.6 231.1 169.8 229.6 170.0 229.0 170.2 228.7 170.4 228.7 170.6 229.3 170.8 230.3 171.0 229.4 171.2 228.5 171.4 227.7 171.6 227.7 171.8 227.2 172.0 226.6 172.2 225.4 172.4 225.9 172.6 227.0 172.8 224.9 173.0 226.8 173.2 226.0 173.4 228.3 173.6 228.1 173.8 227.5 174.0 229.4 174.2 231.0 174.4 230.0 174.6 230.9 174.8 230.1 175.0 228.7 175.2 230.8 175.4 230.2 175.6 229.5 175.8 231.2 176.0 230.9 176.2 230.4 176.4 231.4 176.6 230.2 176.8 231.3 177.0 230.2 177.2 231.3 177.4 230.1 177.6 232.1 177.8 231.2 178.0 232.1 178.2 230.4 178.4 230.7 178.6 231.7 178.8 229.0 179.0 230.3 179.2 231.9 179.4 231.5 179.6 231.9 179.8 230.9 180.0 231.6 180.2 230.6 180.4 230.2 180.6 230.0 180.8 230.8 181.0 230.8 181.2 230.8 181.4 228.6 181.6 229.8 181.8 230.9 182.0 231.5 182.2 230.9 182.4 230.7 182.6 229.6 182.8 232.9 183.0 230.5 183.2 232.6 183.4 232.5 183.6 231.6 183.8 231.0 184.0 231.5 184.2 230.6 184.4 231.6 184.6 231.4 184.8 231.8 185.0 232.2 185.2 232.8 185.4 231.2 185.6 232.3 185.8 230.9 186.0 230.8 186.2 231.0 186.4 230.8 186.6 232.3 186.8 232.2 187.0 232.5 187.2 231.5 187.4 231.8 187.6 231.1 187.8 230.7 188.0 231.9 188.2 231.8 188.4 230.8 188.6 232.1 188.8 230.3 189.0 231.5 189.2 231.2 189.4 231.3 189.6 230.9 189.8 232.4 190.0 232.1 190.2 232.6 190.4 231.8 190.6 230.7 190.8 231.4 191.0 230.8 191.2 232.1 191.4 232.6 191.6 232.0 191.8 231.3 192.0 231.5 192.2 231.9 192.4 230.7 192.6 231.9 192.8 231.9 193.0 231.4 193.2 231.5 193.4 231.9 193.6 231.2 193.8 231.2 194.0 232.4 194.2 232.0 194.4 233.1 194.6 231.1 194.8 230.5 195.0 232.6 195.2 232.6 195.4 231.3 195.6 230.8 195.8 231.9 196.0 230.6 196.2 231.6 196.4 230.3 196.6 231.7 196.8 230.3 197.0 231.7 197.2 233.1 197.4 231.7 197.6 232.5 197.8 231.4 198.0 231.3 198.2 230.8 198.4 232.7 198.6 231.9 198.8 233.2 199.0 231.1 199.2 231.8 199.4 232.0 199.6 233.0 199.8 233.3 200.0 231.5 200.2 231.1 200.4 230.7 200.6 233.0 200.8 231.9 201.0 231.5 201.2 231.9 201.4 230.1 201.6 230.7 201.8 232.7 202.0 232.3 202.2 232.1 202.4 231.3 202.6 232.4 202.8 233.3 203.0 231.1 203.2 232.0 203.4 231.7 203.6 232.3 203.8 232.0 204.0 231.9 204.2 231.4 204.4 232.0 204.6 231.6 204.8 231.9 205.0 232.0 205.2 232.5 205.4 231.6 205.6 231.8 205.8 232.9 206.0 231.9 206.2 231.9 206.4 232.7 206.6 232.3 206.8 232.2 207.0 232.3 207.2 231.2 207.4 232.4 207.6 233.1 207.8 232.5 208.0 230.9 208.2 232.3 208.4 231.4 208.6 232.0 208.8 232.2 209.0 231.2 209.2 233.1 209.4 232.1 209.6 232.7 209.8 232.6 210.0 233.2 210.2 233.0 210.4 231.1 210.6 232.2 210.8 230.6 211.0 231.8 211.2 232.7 211.4 232.9 211.6 233.2 211.8 231.9 212.0 232.4 212.2 232.3 212.4 233.2 212.6 233.4 212.8 231.9 213.0 235.1 213.2 232.2 213.4 231.9 213.6 232.7 213.8 232.8 214.0 232.6 214.2 231.7 214.4 233.3 214.6 232.3 214.8 233.4 215.0 233.3 215.2 231.3 215.4 231.5 215.6 231.5 215.8 232.5 216.0 232.3 216.2 232.5 216.4 231.7 216.6 232.6 216.8 233.3 217.0 231.3 217.2 232.2 217.4 232.5 217.6 232.2 217.8 232.2 218.0 233.6 218.2 233.3 218.4 233.0 218.6 231.8 218.8 234.0 219.0 232.6 219.2 231.9 219.4 232.1 219.6 232.0 219.8 233.9 220.0 232.5 220.2 232.4 220.4 230.7 220.6 232.9 220.8 231.6 221.0 231.5 221.2 232.8 221.4 231.7 221.6 233.0 221.8 233.2 222.0 231.0 222.2 232.3 222.4 231.2 222.6 232.4 222.8 233.1 223.0 231.4 223.2 233.8 223.4 232.2 223.6 231.5 223.8 232.3 224.0 233.0 224.2 231.4 224.4 232.4 224.6 231.4 224.8 233.3 225.0 232.6 225.2 232.1 225.4 233.2 225.6 231.5 225.8 232.2 226.0 233.8 226.2 232.4 226.4 233.5 226.6 232.6 226.8 231.9 227.0 232.3 227.2 232.5 227.4 232.2 227.6 231.9 227.8 231.9 228.0 231.4 228.2 232.6 228.4 232.8 228.6 233.1 228.8 231.2 229.0 233.1 229.2 232.5 229.4 231.5 229.6 232.6 229.8 233.2 230.0 233.0 230.2 233.1 230.4 233.3 230.6 233.3 230.8 232.6 231.0 231.1 231.2 232.1 231.4 232.9 231.6 232.3 231.8 233.2 232.0 233.3 232.2 232.7 232.4 234.1 232.6 232.0 232.8 233.4 233.0 232.4 233.2 232.2 233.4 233.2 233.6 232.3 233.8 233.4 234.0 231.9 234.2 232.8 234.4 232.2 234.6 232.6 234.8 232.5 235.0 232.0 235.2 233.3 235.4 231.9 235.6 232.1 235.8 233.5 236.0 233.6 236.2 233.3 236.4 233.1 236.6 234.6 236.8 231.9 237.0 232.3 237.2 232.1 237.4 233.5 237.6 233.1 237.8 233.7 238.0 233.6 238.2 232.7 238.4 232.2 238.6 232.1 238.8 234.4 239.0 233.5 239.2 233.1 239.4 232.4 239.6 232.4 239.8 232.2 240.0 232.1 240.2 230.4 240.4 232.0 240.6 231.6 240.8 231.9 241.0 231.6 241.2 231.8 241.4 231.1 241.6 231.7 241.8 229.3 242.0 230.6 242.2 233.0 242.4 231.1 242.6 232.0 242.8 232.9 243.0 231.9 243.2 233.2 243.4 231.7 243.6 231.4 243.8 231.9 244.0 231.8 244.2 233.0 244.4 232.9 244.6 233.4 244.8 232.4 245.0 235.1 245.2 233.2 245.4 233.2 245.6 233.6 245.8 233.1 246.0 232.9 246.2 233.4 246.4 234.1 246.6 233.9 246.8 234.1 247.0 233.0 247.2 232.9 247.4 235.0 247.6 233.3 247.8 233.8 248.0 234.0 248.2 234.6 248.4 232.5 248.6 233.2 248.8 233.2 249.0 233.3 249.2 231.8 249.4 233.5 249.6 231.4 249.8 233.8 250.0 234.0 250.2 234.1 250.4 232.7 250.6 234.4 250.8 233.0 251.0 232.8 251.2 233.0 251.4 233.1 251.6 233.8 251.8 234.3 252.0 232.2 252.2 233.3 252.4 234.4 252.6 233.9 252.8 234.2 253.0 232.7 253.2 234.5 253.4 232.7 253.6 234.0 253.8 234.9 254.0 235.3 254.2 234.3 254.4 234.6 254.6 233.5 254.8 233.6 255.0 234.8 255.2 234.0 255.4 233.9 255.6 232.9 255.8 234.1 256.0 234.5 256.2 233.4 256.4 233.7 256.6 235.2 256.8 234.2 257.0 233.9 257.2 233.2 257.4 233.6 257.6 233.9 257.8 235.2 258.0 233.7 258.2 235.5 258.4 233.5 258.6 233.9 258.8 234.8 259.0 234.0 259.2 233.6 259.4 234.1 259.6 234.6 259.8 233.0 260.0 234.1 260.2 234.2 260.4 234.0 260.6 234.9 260.8 233.9 261.0 234.1 261.2 234.4 261.4 234.9 261.6 234.2 261.8 235.5 262.0 233.7 262.2 235.4 262.4 233.8 262.6 234.3 262.8 234.7 263.0 236.0 263.2 235.1 263.4 234.2 263.6 235.5 263.8 234.3 264.0 233.9 264.2 234.9 264.4 234.6 264.6 235.3 264.8 234.1 265.0 234.9 265.2 235.1 265.4 234.8 265.6 234.6 265.8 234.1 266.0 235.3 266.2 234.7 266.4 235.0 266.6 234.4 266.8 234.7 267.0 233.9 267.2 234.7 267.4 235.2 267.6 234.7 267.8 235.3 268.0 234.9 268.2 235.7 268.4 234.5 268.6 233.4 268.8 235.0 269.0 234.5 269.2 233.9 269.4 235.1 269.6 234.8 269.8 234.9 270.0 234.3 270.2 234.7 270.4 234.7 270.6 235.7 270.8 233.8 271.0 234.2 271.2 234.4 271.4 232.6 271.6 232.5 271.8 235.1 272.0 231.8 272.2 233.2 272.4 231.7 272.6 231.3 272.8 229.9 273.0 230.4 273.2 231.5 273.4 230.0 273.6 231.9 273.8 232.2 274.0 234.0 274.2 232.6 274.4 234.3 274.6 234.3 274.8 233.7 275.0 232.9 275.2 235.5 275.4 233.5 275.6 234.3 275.8 235.4 276.0 235.7 276.2 234.3 276.4 235.0 276.6 234.9 276.8 236.0 277.0 237.0 277.2 233.8 277.4 235.9 277.6 233.1 277.8 235.3 278.0 234.5 278.2 236.8 278.4 235.5 278.6 234.9 278.8 235.1 279.0 235.0 279.2 235.6 279.4 235.4 279.6 236.0 279.8 236.7 280.0 236.1 280.2 234.7 280.4 234.4 280.6 235.1 280.8 236.4 281.0 235.4 281.2 235.2 281.4 235.8 281.6 234.6 281.8 234.9 282.0 236.1 282.2 235.5 282.4 235.4 282.6 236.0 282.8 235.4 283.0 235.3 283.2 235.5 283.4 236.3 283.6 235.9 283.8 235.0 284.0 235.7 284.2 236.4 284.4 237.3 284.6 235.1 284.8 236.2 285.0 235.8 285.2 236.6 285.4 236.3 285.6 237.1 285.8 236.4 286.0 235.6 286.2 235.7 286.4 236.4 286.6 236.4 286.8 237.9 287.0 237.4 287.2 235.2 287.4 236.4 287.6 235.2 287.8 234.9 288.0 236.7 288.2 236.6 288.4 235.4 288.6 237.5 288.8 235.5 289.0 235.4 289.2 236.8 289.4 236.4 289.6 236.2 289.8 236.3 290.0 236.5 290.2 236.2 290.4 236.2 290.6 234.9 290.8 235.4 291.0 236.9 291.2 235.9 291.4 236.8 291.6 237.4 291.8 236.2 292.0 236.7 292.2 238.0 292.4 237.0 292.6 237.9 292.8 237.7 293.0 237.1 293.2 236.5 293.4 235.9 293.6 235.7 293.8 237.0 294.0 237.0 294.2 236.5 294.4 237.3 294.6 236.2 294.8 237.5 295.0 236.7 295.2 236.7 295.4 236.7 295.6 236.7 295.8 238.7 296.0 235.6 296.2 237.0 296.4 237.8 296.6 237.4 296.8 236.7 297.0 238.2 297.2 236.1 297.4 236.0 297.6 237.4 297.8 235.9 298.0 235.2 298.2 237.7 298.4 237.6 298.6 237.6 298.8 236.7 299.0 237.3 299.2 236.4 299.4 238.5 299.6 237.8 299.8 237.8 300.0 235.8 300.2 237.8 300.4 238.4 300.6 238.2 300.8 237.9 301.0 237.3 301.2 237.1 301.4 237.8 301.6 237.7 301.8 237.6 302.0 237.2 302.2 238.7 302.4 236.6 302.6 237.5 302.8 237.1 303.0 238.3 303.2 238.6 303.4 238.5 303.6 238.2 303.8 236.6 304.0 239.2 304.2 238.0 304.4 237.6 304.6 237.7 304.8 237.5 305.0 238.1 305.2 238.0 305.4 237.5 305.6 235.9 305.8 237.8 306.0 238.2 306.2 238.3 306.4 237.8 306.6 238.2 306.8 238.7 307.0 237.6 307.2 239.1 307.4 236.5 307.6 237.1 307.8 237.3 308.0 236.2 308.2 237.3 308.4 239.0 308.6 239.0 308.8 238.2 309.0 239.4 309.2 238.3 309.4 237.8 309.6 238.4 309.8 238.1 310.0 238.8 310.2 237.1 310.4 239.0 310.6 238.0 310.8 239.0 311.0 237.2 311.2 238.0 311.4 238.4 311.6 239.1 311.8 237.5 312.0 239.7 312.2 238.8 312.4 238.1 312.6 239.4 312.8 238.6 313.0 239.4 313.2 240.3 313.4 239.1 313.6 238.2 313.8 238.3 314.0 239.1 314.2 238.9 314.4 238.0 314.6 238.2 314.8 239.2 315.0 240.5 315.2 236.8 315.4 239.3 315.6 238.6 315.8 239.4 316.0 239.5 316.2 238.9 316.4 238.1 316.6 237.8 316.8 237.5 317.0 239.8 317.2 238.8 317.4 238.5 317.6 238.7 317.8 238.0 318.0 239.2 318.2 240.0 318.4 239.9 318.6 237.9 318.8 240.1 319.0 238.5 319.2 237.6 319.4 238.2 319.6 238.4 319.8 239.1 320.0 238.4 320.2 238.0 320.4 239.0 320.6 240.6 320.8 238.7 321.0 239.5 321.2 239.3 321.4 241.2 321.6 237.8 321.8 240.0 322.0 238.3 322.2 238.8 322.4 239.2 322.6 241.6 322.8 238.7 323.0 237.8 323.2 240.2 323.4 238.6 323.6 239.0 323.8 239.2 324.0 239.3 324.2 239.1 324.4 239.4 324.6 239.4 324.8 239.8 325.0 238.8 325.2 238.5 325.4 238.2 325.6 239.4 325.8 238.9 326.0 239.3 326.2 239.2 326.4 239.9 326.6 238.7 326.8 239.0 327.0 237.4 327.2 237.3 327.4 237.7 327.6 236.7 327.8 237.9 328.0 236.0 328.2 236.6 328.4 234.3 328.6 234.7 328.8 234.6 329.0 234.0 329.2 232.1 329.4 232.7 329.6 232.7 329.8 231.9 330.0 230.7 330.2 230.7 330.4 230.6 330.6 232.5 330.8 233.9 331.0 233.2 331.2 233.1 331.4 235.3 331.6 236.3 331.8 234.4 332.0 237.0 332.2 239.0 332.4 238.4 332.6 238.5 332.8 238.7 333.0 239.4 333.2 238.1 333.4 238.4 333.6 239.5 333.8 238.8 334.0 239.6 334.2 238.1 334.4 240.2 334.6 240.4 334.8 239.9 335.0 240.0 335.2 241.2 335.4 239.2 335.6 239.4 335.8 239.3 336.0 239.9 336.2 239.5 336.4 240.3 336.6 239.9 336.8 239.3 337.0 239.3 337.2 241.4 337.4 240.4 337.6 240.4 337.8 240.6 338.0 240.5 338.2 241.2 338.4 241.1 338.6 240.2 338.8 240.1 339.0 239.9 339.2 239.8 339.4 241.8 339.6 240.1 339.8 239.3 340.0 240.2 340.2 240.3 340.4 241.1 340.6 240.3 340.8 241.3 341.0 241.2 341.2 241.9 341.4 242.6 341.6 243.2 341.8 242.0 342.0 240.2 342.2 240.8 342.4 241.3 342.6 242.7 342.8 241.6 343.0 242.1 343.2 241.0 343.4 241.6 343.6 241.7 343.8 240.9 344.0 241.8 344.2 242.1 344.4 241.1 344.6 242.0 344.8 242.5 345.0 241.4 345.2 241.3 345.4 241.1 345.6 240.9 345.8 241.5 346.0 241.1 346.2 241.2 346.4 240.9 346.6 240.3 346.8 240.8 347.0 241.7 347.2 240.6 347.4 241.0 347.6 242.8 347.8 242.4 348.0 241.0 348.2 242.0 348.4 241.1 348.6 242.8 348.8 241.2 349.0 241.7 349.2 242.7 349.4 241.0 349.6 242.7 349.8 241.1 350.0 241.9 350.2 241.5 350.4 241.7 350.6 241.9 350.8 241.7 351.0 241.0 351.2 242.4 351.4 242.3 351.6 242.8 351.8 242.9 352.0 240.8 352.2 242.8 352.4 242.8 352.6 241.5 352.8 242.7 353.0 243.0 353.2 241.5 353.4 240.9 353.6 241.7 353.8 244.1 354.0 242.2 354.2 241.1 354.4 241.8 354.6 241.3 354.8 241.8 355.0 242.2 355.2 240.2 355.4 242.4 355.6 243.2 355.8 242.0 356.0 241.9 356.2 243.0 356.4 241.2 356.6 241.3 356.8 241.2 357.0 242.1 357.2 242.5 357.4 242.2 357.6 242.7 357.8 242.9 358.0 242.7 358.2 241.7 358.4 242.1 358.6 243.2 358.8 241.5 359.0 242.1 359.2 242.0 359.4 242.2 359.6 241.5 359.8 241.3 360.0 244.2 360.2 243.0 360.4 241.7 360.6 242.2 360.8 242.7 361.0 241.9 361.2 242.6 361.4 241.7 361.6 241.8 361.8 241.9 362.0 241.6 362.2 240.0 362.4 241.8 362.6 241.8 362.8 241.8 363.0 240.5 363.2 241.3 363.4 240.9 363.6 239.1 363.8 238.4 364.0 239.9 364.2 238.1 364.4 238.8 364.6 238.6 364.8 235.3 365.0 233.7 365.2 232.5 365.4 231.3 365.6 228.4 365.8 229.3 366.0 229.1 366.2 229.8 366.4 230.5 366.6 233.3 366.8 235.0 367.0 235.0 367.2 238.8 367.4 238.1 367.6 239.5 367.8 239.5 368.0 240.8 368.2 241.8 368.4 240.7 368.6 240.4 368.8 241.6 369.0 241.1 369.2 241.8 369.4 242.4 369.6 242.6 369.8 243.7 370.0 242.1 370.2 243.2 370.4 242.7 370.6 244.2 370.8 245.1 371.0 243.5 371.2 244.6 371.4 243.0 371.6 242.3 371.8 242.6 372.0 242.4 372.2 242.9 372.4 243.5 372.6 244.6 372.8 244.3 373.0 244.2 373.2 243.5 373.4 243.4 373.6 244.0 373.8 244.1 374.0 244.2 374.2 244.3 374.4 244.0 374.6 242.6 374.8 243.2 375.0 243.5 375.2 245.4 375.4 243.8 375.6 244.6 375.8 245.2 376.0 244.4 376.2 243.9 376.4 244.0 376.6 243.4 376.8 244.4 377.0 245.0 377.2 244.6 377.4 244.8 377.6 244.8 377.8 245.7 378.0 243.7 378.2 244.3 378.4 244.7 378.6 245.1 378.8 242.3 379.0 243.7 379.2 243.9 379.4 243.3 379.6 244.6 379.8 244.0 380.0 243.5 380.2 242.4 380.4 242.5 380.6 242.5 380.8 243.5 381.0 242.1 381.2 241.4 381.4 241.9 381.6 242.7 381.8 244.6 382.0 245.4 382.2 243.4 382.4 244.6 382.6 245.1 382.8 245.1 383.0 244.2 383.2 243.3 383.4 244.0 383.6 243.0 383.8 244.7 384.0 245.1 384.2 243.1 384.4 244.5 384.6 244.8 384.8 245.6 385.0 245.7 385.2 245.3 385.4 244.2 385.6 244.4 385.8 245.6 386.0 244.3 386.2 244.7 386.4 246.0 386.6 244.9 386.8 243.8 387.0 244.6 387.2 245.3 387.4 244.7 387.6 245.7 387.8 245.8 388.0 244.4 388.2 244.5 388.4 244.8 388.6 244.0 388.8 245.2 389.0 244.8 389.2 245.6 389.4 244.5 389.6 244.3 389.8 246.4 390.0 244.4 390.2 244.6 390.4 244.5 390.6 244.8 390.8 244.4 391.0 245.0 391.2 244.5 391.4 244.8 391.6 245.4 391.8 245.6 392.0 245.5 392.2 244.6 392.4 245.4 392.6 245.1 392.8 245.1 393.0 243.9 393.2 245.7 393.4 245.1 393.6 246.5 393.8 245.7 394.0 244.4 394.2 244.2 394.4 246.1 394.6 244.6 394.8 245.8 395.0 245.0 395.2 246.9 395.4 245.3 395.6 246.4 395.8 246.3 396.0 245.0 396.2 245.1 396.4 246.4 396.6 245.3 396.8 244.7 397.0 246.3 397.2 247.3 397.4 245.4 397.6 246.4 397.8 245.3 398.0 246.4 398.2 245.3 398.4 246.5 398.6 245.9 398.8 245.4 399.0 245.7 399.2 245.1 399.4 244.7 399.6 244.8 399.8 245.6 400.0 244.8 400.2 246.0 400.4 246.1 400.6 246.1 400.8 245.4 401.0 245.8 401.2 245.7 401.4 246.8 401.6 245.2 401.8 245.5 402.0 245.7 402.2 245.8 402.4 245.3 402.6 245.4 402.8 246.7 403.0 245.4 403.2 246.6 403.4 247.5 403.6 246.9 403.8 244.6 404.0 246.6 404.2 246.4 404.4 246.4 404.6 244.8 404.8 246.6 405.0 245.2 405.2 247.0 405.4 246.9 405.6 248.0 405.8 245.8 406.0 244.9 406.2 246.9 406.4 246.7 406.6 245.8 406.8 247.1 407.0 246.5 407.2 245.0 407.4 245.7 407.6 245.6 407.8 245.8 408.0 246.0 408.2 245.3 408.4 245.6 408.6 246.1 408.8 245.5 409.0 245.2 409.2 245.0 409.4 244.9 409.6 243.3 409.8 244.5 410.0 243.3 410.2 243.7 410.4 241.9 410.6 243.1 410.8 242.0 411.0 240.2 411.2 240.9 411.4 239.9 411.6 241.8 411.8 241.2 412.0 240.7 412.2 242.2 412.4 242.6 412.6 244.2 412.8 244.1 413.0 244.8 413.2 244.0 413.4 245.8 413.6 247.0 413.8 246.2 414.0 245.9 414.2 246.2 414.4 245.6 414.6 246.6 414.8 245.7 415.0 246.7 415.2 246.4 415.4 246.2 415.6 247.3 415.8 245.8 416.0 247.0 416.2 246.1 416.4 248.5 416.6 248.7 416.8 247.9 417.0 248.7 417.2 247.8 417.4 247.8 417.6 247.1 417.8 246.8 418.0 247.6 418.2 247.1 418.4 247.2 418.6 248.1 418.8 247.5 419.0 246.5 419.2 247.5 419.4 247.1 419.6 247.5 419.8 246.9 420.0 248.6 420.2 249.2 420.4 246.9 420.6 248.3 420.8 248.3 421.0 247.0 421.2 247.9 421.4 248.9 421.6 248.5 421.8 249.1 422.0 247.0 422.2 247.3 422.4 248.1 422.6 248.2 422.8 248.0 423.0 247.7 423.2 247.6 423.4 247.5 423.6 248.3 423.8 245.9 424.0 249.2 424.2 247.6 424.4 246.9 424.6 248.4 424.8 246.9 425.0 248.3 425.2 247.7 425.4 248.4 425.6 248.6 425.8 248.9 426.0 247.6 426.2 247.7 426.4 247.9 426.6 246.9 426.8 248.4 427.0 248.1 427.2 247.0 427.4 249.0 427.6 249.1 427.8 247.1 428.0 248.6 428.2 249.1 428.4 248.8 428.6 247.5 428.8 247.2 429.0 248.2 429.2 247.9 429.4 248.3 429.6 248.3 429.8 248.8 430.0 248.0 430.2 248.3 430.4 250.6 430.6 248.3 430.8 249.0 431.0 248.7 431.2 248.6 431.4 247.8 431.6 248.9 431.8 248.5 432.0 249.1 432.2 250.1 432.4 248.8 432.6 249.2 432.8 248.0 433.0 248.9 433.2 250.0 433.4 248.8 433.6 248.4 433.8 249.1 434.0 248.9 434.2 248.9 434.4 248.8 434.6 250.7 434.8 248.6 435.0 249.0 435.2 248.9 435.4 250.3 435.6 249.2 435.8 250.5 436.0 249.6 436.2 249.6 436.4 248.5 436.6 250.6 436.8 250.1 437.0 250.1 437.2 249.7 437.4 249.6 437.6 249.0 437.8 250.7 438.0 250.2 438.2 249.8 438.4 249.6 438.6 250.3 438.8 250.2 439.0 251.5 439.2 250.9 439.4 249.9 439.6 249.6 439.8 250.3 440.0 249.8 440.2 250.6 440.4 250.8 440.6 251.0 440.8 250.9 441.0 250.4 441.2 251.1 441.4 250.0 441.6 250.6 441.8 251.3 442.0 250.9 442.2 249.7 442.4 249.8 442.6 249.5 442.8 252.1 443.0 249.6 443.2 250.6 443.4 252.1 443.6 251.6 443.8 251.8 444.0 250.4 444.2 251.4 444.4 253.1 444.6 250.8 444.8 251.2 445.0 250.6 445.2 250.9 445.4 251.2 445.6 252.0 445.8 250.3 446.0 249.9 446.2 251.0 446.4 251.1 446.6 252.0 446.8 251.5 447.0 250.5 447.2 251.5 447.4 251.9 447.6 251.3 447.8 250.8 448.0 251.6 448.2 250.8 448.4 249.7 448.6 252.1 448.8 250.2 449.0 250.9 449.2 250.9 449.4 250.9 449.6 251.0 449.8 250.1 450.0 251.6 450.2 251.2 450.4 251.3 450.6 252.0 450.8 252.1 451.0 252.3 451.2 252.7 451.4 251.6 451.6 250.1 451.8 251.5 452.0 251.3 452.2 251.4 452.4 250.9 452.6 250.7 452.8 252.0 453.0 252.1 453.2 250.6 453.4 251.8 453.6 251.3 453.8 251.1 454.0 251.9 454.2 251.4 454.4 251.0 454.6 251.5 454.8 250.0 455.0 251.0 455.2 251.2 455.4 250.4 455.6 251.6 455.8 251.7 456.0 251.1 456.2 251.4 456.4 252.0 456.6 252.3 456.8 250.9 457.0 251.8 457.2 252.3 457.4 251.5 457.6 250.9 457.8 250.9 458.0 251.2 458.2 250.7 458.4 253.0 458.6 251.0 458.8 251.7 459.0 251.5 459.2 251.8 459.4 251.0 459.6 250.3 459.8 252.4 460.0 251.1 460.2 251.2 460.4 251.1 460.6 251.8 460.8 251.3 461.0 251.5 461.2 251.0 461.4 250.3 461.6 250.1 461.8 249.1 462.0 247.8 462.2 248.7 462.4 247.6 462.6 249.8 462.8 248.6 463.0 247.8 463.2 246.0 463.4 247.7 463.6 244.8 463.8 245.3 464.0 245.9 464.2 246.3 464.4 247.6 464.6 248.2 464.8 250.0 465.0 249.8 465.2 250.4 465.4 250.2 465.6 250.1 465.8 250.0 466.0 249.7 466.2 250.3 466.4 250.9 466.6 251.9 466.8 250.2 467.0 250.6 467.2 251.9 467.4 251.0 467.6 252.1 467.8 251.7 468.0 251.5 468.2 251.1 468.4 252.1 468.6 251.7 468.8 251.8 469.0 251.8 469.2 252.5 469.4 252.5 469.6 251.1 469.8 252.4 470.0 252.8 470.2 253.3 470.4 253.2 470.6 252.8 470.8 251.8 471.0 252.1 471.2 253.4 471.4 252.2 471.6 253.5 471.8 253.7 472.0 252.0 472.2 253.1 472.4 252.8 472.6 254.4 472.8 253.5 473.0 252.5 473.2 253.2 473.4 252.3 473.6 252.9 473.8 253.1 474.0 253.1 474.2 253.3 474.4 252.4 474.6 251.7 474.8 252.8 475.0 252.4 475.2 252.6 475.4 254.7 475.6 254.0 475.8 253.1 476.0 252.1 476.2 252.2 476.4 253.5 476.6 254.0 476.8 253.0 477.0 253.3 477.2 253.4 477.4 254.1 477.6 251.9 477.8 253.4 478.0 253.6 478.2 254.0 478.4 253.6 478.6 252.5 478.8 252.9 479.0 252.2 479.2 253.5 479.4 253.5 479.6 253.7 479.8 252.6 480.0 252.5 480.2 254.5 480.4 253.5 480.6 254.7 480.8 253.7 481.0 252.3 481.2 254.0 481.4 254.4 481.6 253.1 481.8 252.0 482.0 254.0 482.2 253.4 482.4 253.7 482.6 251.5 482.8 253.8 483.0 251.4 483.2 252.8 483.4 254.2 483.6 252.1 483.8 252.1 484.0 253.2 484.2 254.8 484.4 254.8 484.6 253.1 484.8 254.3 485.0 254.0 485.2 253.8 485.4 253.8 485.6 253.0 485.8 254.2 486.0 254.4 486.2 255.6 486.4 254.3 486.6 251.8 486.8 252.7 487.0 253.9 487.2 253.7 487.4 252.3 487.6 253.6 487.8 253.4 488.0 253.6 488.2 253.6 488.4 254.4 488.6 254.8 488.8 254.2 489.0 252.9 489.2 253.1 489.4 253.2 489.6 253.7 489.8 253.4 490.0 253.5 490.2 253.1 490.4 254.5 490.6 254.4 490.8 254.5 491.0 253.7 491.2 254.1 491.4 253.1 491.6 253.0 491.8 253.4 492.0 254.3 492.2 253.7 492.4 253.0 492.6 253.9 492.8 254.2 493.0 254.0 493.2 253.4 493.4 253.9 493.6 253.6 493.8 253.6 494.0 253.8 494.2 254.5 494.4 255.3 494.6 255.1 494.8 254.4 495.0 253.6 495.2 253.7 495.4 253.7 495.6 254.8 495.8 251.9 496.0 254.2 496.2 252.5 496.4 254.0 496.6 255.0 496.8 253.3 497.0 252.3 497.2 255.0 497.4 255.1 497.6 254.4 497.8 255.0 498.0 253.4 498.2 254.9 498.4 255.3 498.6 254.5 498.8 254.3 499.0 255.0 499.2 254.9 499.4 253.5 499.6 255.1 499.8 254.7 500.0 254.2 500.2 255.1 500.4 254.8 500.6 254.7 500.8 253.8 501.0 254.8 501.2 253.4 501.4 254.2 501.6 253.0 501.8 253.0 502.0 254.7 502.2 254.3 502.4 254.4 502.6 254.8 502.8 254.7 503.0 253.8 503.2 254.5 503.4 254.4 503.6 254.1 503.8 254.4 504.0 254.3 504.2 254.1 504.4 254.3 504.6 254.8 504.8 256.2 505.0 254.1 505.2 255.1 505.4 253.6 505.6 255.9 505.8 254.5 506.0 254.9 506.2 255.8 506.4 255.6 506.6 253.7 506.8 255.3 507.0 254.7 507.2 255.4 507.4 255.0 507.6 255.5 507.8 255.2 508.0 254.9 508.2 255.9 508.4 253.9 508.6 254.7 508.8 254.4 509.0 255.0 509.2 254.8 509.4 255.0 509.6 254.8 509.8 254.9 510.0 254.0 510.2 255.2 510.4 255.5 510.6 254.8 510.8 254.8 511.0 254.9 511.2 256.6 511.4 255.5 511.6 255.7 511.8 255.2 512.0 255.1 512.2 254.8 512.4 256.7 512.6 254.2 512.8 255.8 513.0 255.5 513.2 255.4 513.4 254.4 513.6 254.7 513.8 256.4 514.0 255.2 514.2 256.4 514.4 256.2 514.6 256.2 514.8 256.3 515.0 254.9 515.2 255.5 515.4 256.3 515.6 254.9 515.8 257.1 516.0 255.5 516.2 255.9 516.4 255.2 516.6 256.2 516.8 255.4 517.0 255.8 517.2 255.1 517.4 256.9 517.6 254.8 517.8 256.4 518.0 256.2 518.2 256.4 518.4 255.3 518.6 256.9 518.8 256.9 519.0 256.3 519.2 256.4 519.4 256.1 519.6 256.7 519.8 255.6 520.0 256.7 520.2 256.6 520.4 255.2 520.6 254.3 520.8 256.2 521.0 256.2 521.2 257.2 521.4 256.4 521.6 256.0 521.8 255.4 522.0 256.3 522.2 256.0 522.4 255.6 522.6 256.4 522.8 257.3 523.0 256.6 523.2 255.7 523.4 256.8 523.6 255.7 523.8 255.4 524.0 256.9 524.2 256.2 524.4 257.4 524.6 256.9 524.8 256.0 525.0 256.8 525.2 257.6 525.4 256.5 525.6 255.9 525.8 256.2 526.0 256.1 526.2 255.9 526.4 255.8 526.6 257.1 526.8 257.6 527.0 256.6 527.2 257.4 527.4 257.5 527.6 258.1 527.8 256.8 528.0 256.6 528.2 257.2 528.4 257.0 528.6 257.2 528.8 257.9 529.0 256.7 529.2 257.2 529.4 256.3 529.6 256.9 529.8 256.6 530.0 256.5 530.2 256.9 530.4 256.8 530.6 257.4 530.8 257.7 531.0 256.0 531.2 257.9 531.4 255.5"/>
</g>
<g fill="#0000ff"><path d="M76.0 78.6L82.0 86.1L76.0 93.6L70.0 86.1Z"/><path d="M96.8 126.7L102.8 134.2L96.8 141.7L90.8 134.2Z"/><path d="M116.6 181.7L122.6 189.2L116.6 196.7L110.6 189.2Z"/><path d="M172.5 203.9L178.5 211.4L172.5 218.9L166.5 211.4Z"/><path d="M241.5 208.8L247.5 216.3L241.5 223.8L235.5 216.3Z"/><path d="M273.2 210.0L279.2 217.5L273.2 225.0L267.2 217.5Z"/><path d="M365.9 207.8L371.9 215.3L365.9 222.8L359.9 215.3Z"/><path d="M411.5 219.8L417.5 227.3L411.5 234.8L405.5 227.3Z"/><path d="M59.0 44.6L65.0 52.1L59.0 59.6L53.0 52.1Z"/></g>
<g fill="#ff0000"><circle cx="69.7" cy="139.3" r="6"/><circle cx="132.8" cy="187.6" r="6"/><circle cx="330.1" cy="218.6" r="6"/><circle cx="463.6" cy="231.7" r="6"/><circle cx="507.8" cy="243.5" r="6"/><circle cx="59" cy="26.4" r="6"/></g>
<rect x="40.5" y="9" width="491.3" height="365" fill="none" stroke="#050505" stroke-width="1.5"/>
<g stroke="#050505" stroke-width="1.5"><line x1="40.5" y1="374" x2="40.5" y2="367.2"/><line x1="81.4" y1="374" x2="81.4" y2="370.4"/><line x1="122.4" y1="374" x2="122.4" y2="367.2"/><line x1="163.3" y1="374" x2="163.3" y2="370.4"/><line x1="204.3" y1="374" x2="204.3" y2="367.2"/><line x1="245.2" y1="374" x2="245.2" y2="370.4"/><line x1="286.1" y1="374" x2="286.1" y2="367.2"/><line x1="327.1" y1="374" x2="327.1" y2="370.4"/><line x1="368.0" y1="374" x2="368.0" y2="367.2"/><line x1="409.0" y1="374" x2="409.0" y2="370.4"/><line x1="449.9" y1="374" x2="449.9" y2="367.2"/><line x1="490.9" y1="374" x2="490.9" y2="370.4"/><line x1="531.8" y1="374" x2="531.8" y2="367.2"/></g>
<g font-family="Liberation Serif, serif" font-weight="bold" font-size="20" text-anchor="middle" fill="#000"><text x="40.5" y="397.5">40</text><text x="122.4" y="397.5">50</text><text x="204.3" y="397.5">60</text><text x="286.1" y="397.5">70</text><text x="368.0" y="397.5">80</text><text x="449.9" y="397.5">90</text><text x="531.8" y="397.5">100</text></g>
<text x="286.2" y="420.8" font-family="Liberation Serif, serif" font-weight="bold" font-size="22.5" text-anchor="middle">2θ (degree)</text>
<text transform="translate(23.9,191.2) rotate(-90)" font-family="Liberation Serif, serif" font-weight="bold" font-size="24.5" text-anchor="middle">Intensity (cps)</text>
<text x="74.1" y="33.5" font-family="Liberation Serif, serif" font-weight="bold" font-size="19.6">FCC</text>
<text x="78.2" y="58.6" font-family="Liberation Sans, sans-serif" font-size="18.5" stroke="#000" stroke-width="0.45">σ</text>
<g stroke-width="2.2">
<line x1="428" y1="33" x2="457" y2="33" stroke="#243424"/>
<line x1="428" y1="58.3" x2="457" y2="58.3" stroke="#ee2a1a"/>
<line x1="428" y1="83.9" x2="457" y2="83.9" stroke="#1a2aee"/>
</g>
<g font-family="Liberation Serif, serif" font-weight="bold" fill="#1c2a1c">
<text x="467.6" y="38.1" font-size="23.5">Si<tspan font-size="15.5">0.4</tspan></text>
<text x="467.6" y="64.7" font-size="23.5">Si<tspan font-size="15.5">0.5</tspan></text>
<text x="467.6" y="91.0" font-size="23.5">Si<tspan font-size="15.5">0.6</tspan></text>
</g>
</svg></body></html>
